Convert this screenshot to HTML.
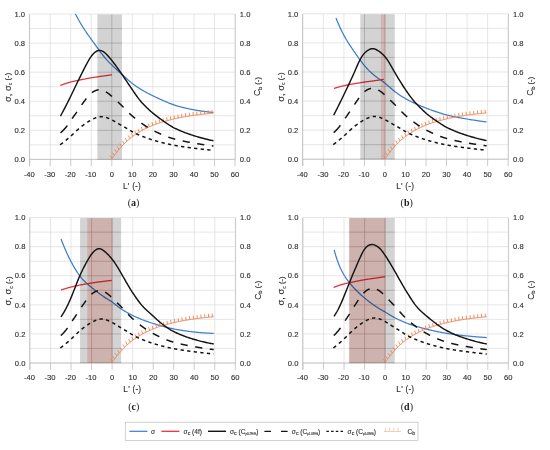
<!DOCTYPE html>
<html lang="en"><head><meta charset="utf-8"><title>Figure</title>
<style>
html,body{margin:0;padding:0;background:#fff;}
body{width:550px;height:450px;overflow:hidden;}
svg{display:block;}
text{font-family:"Liberation Sans",sans-serif;fill:#2e2e2e;stroke:#2e2e2e;stroke-width:0.12px;}
.tk{font-size:7.6px;}
.at{font-size:8.6px;}
.lg{font-size:6.6px;fill:#333;}
.sub{font-size:5.2px;}
.gk{font-size:9.3px;}
.xl{font-size:8.3px;letter-spacing:0.2px;}
.pr{font-size:7.8px;}
.sub2{font-size:2.9px;}
.cap{font-family:"Liberation Serif",serif;font-size:10px;fill:#222;stroke:none;}
.cap .b{font-weight:bold;}
.grid{stroke:#d9d9d9;stroke-width:0.65;fill:none;}
.band{mix-blend-mode:multiply;}
.bg{fill:none;stroke-width:0.8;}
.bg.gray{stroke:rgba(0,0,0,0.10);}
.bg.pink,.bg.brown{stroke:rgba(150,50,30,0.16);}
.axis{stroke:#bababa;stroke-width:0.75;fill:none;}
.axisr{stroke:#c6c6c6;stroke-width:0.85;fill:none;}
.c{fill:none;stroke-linejoin:round;}
.blue{stroke:#3f7fcf;stroke-width:1.25;}
.red{stroke:#e8333c;stroke-width:1.3;}
.black{stroke:#141414;stroke-width:1.45;}
.dashed{stroke:#141414;stroke-width:1.5;}
.dotted{stroke:#141414;stroke-width:1.5;}
.cb{stroke:#ee8254;stroke-width:1.0;}
.cbt{stroke:#ee8254;stroke-width:0.9;}
.cbl{stroke:#f3b184;stroke-width:0.6;}
</style></head><body>
<svg width="550" height="450" viewBox="0 0 550 450">
<rect width="550" height="450" fill="#fff"/>
<g class="panel">
<path class="grid" d="M29.70 14.00 V159.40M50.23 14.00 V159.40M70.76 14.00 V159.40M91.29 14.00 V159.40M111.82 14.00 V159.40M132.35 14.00 V159.40M152.88 14.00 V159.40M173.41 14.00 V159.40M193.94 14.00 V159.40M214.47 14.00 V159.40M235.00 14.00 V159.40M29.70 14.00 H235.00M29.70 28.54 H235.00M29.70 43.08 H235.00M29.70 57.62 H235.00M29.70 72.16 H235.00M29.70 86.70 H235.00M29.70 101.24 H235.00M29.70 115.78 H235.00M29.70 130.32 H235.00M29.70 144.86 H235.00M29.70 159.40 H235.00"/>
<path class="axis" d="M29.40 14.00 V166.20 M29.70 159.40 H235.00 M29.70 159.40 V166.20M50.23 159.40 V166.20M70.76 159.40 V166.20M91.29 159.40 V166.20M111.82 159.40 V166.20M132.35 159.40 V166.20M152.88 159.40 V166.20M173.41 159.40 V166.20M193.94 159.40 V166.20M214.47 159.40 V166.20M235.00 159.40 V166.20"/>
<path class="axisr" d="M235.30 14.00 V159.40"/>
<path class="c blue" d="M75.36 14.00L76.05 15.25L76.75 16.54L77.44 17.82L78.13 19.07L78.83 20.30L79.52 21.51L80.22 22.70L80.91 23.87L81.60 25.02L82.30 26.15L82.99 27.26L83.69 28.35L84.38 29.42L85.07 30.48L85.77 31.51L86.46 32.54L87.15 33.54L87.85 34.54L88.54 35.52L89.24 36.50L89.93 37.46L90.62 38.43L91.32 39.39L92.01 40.34L92.71 41.30L93.40 42.25L94.09 43.21L94.79 44.17L95.48 45.13L96.18 46.09L96.87 47.06L97.56 48.02L98.26 48.98L98.95 49.94L99.64 50.89L100.34 51.84L101.03 52.77L101.73 53.70L102.42 54.61L103.11 55.50L103.81 56.38L104.50 57.24L105.20 58.08L105.89 58.89L106.58 59.68L107.28 60.45L107.97 61.19L108.67 61.91L109.36 62.60L110.05 63.27L110.75 63.91L111.44 64.53L112.14 65.31L112.83 66.01L113.52 66.70L114.22 67.38L114.91 68.03L115.60 68.67L116.30 69.31L116.99 69.94L117.69 70.56L118.38 71.18L119.07 71.80L119.77 72.42L120.46 73.05L121.16 73.67L121.85 74.29L122.54 74.92L123.24 75.55L123.93 76.18L124.63 76.81L125.32 77.44L126.01 78.07L126.71 78.69L127.40 79.31L128.09 79.93L128.79 80.53L129.48 81.13L130.18 81.72L130.87 82.29L131.56 82.86L132.26 83.41L132.95 83.95L133.65 84.47L134.34 84.99L135.03 85.49L135.73 85.98L136.42 86.46L137.12 86.93L137.81 87.39L138.50 87.84L139.20 88.29L139.89 88.72L140.58 89.15L141.28 89.57L141.97 89.98L142.67 90.39L143.36 90.79L144.05 91.18L144.75 91.57L145.44 91.95L146.14 92.33L146.83 92.70L147.52 93.07L148.22 93.44L148.91 93.79L149.61 94.15L150.30 94.50L150.99 94.85L151.69 95.20L152.38 95.54L153.07 95.88L153.77 96.22L154.46 96.55L155.16 96.88L155.85 97.21L156.54 97.54L157.24 97.87L157.93 98.19L158.63 98.51L159.32 98.83L160.01 99.15L160.71 99.47L161.40 99.78L162.10 100.09L162.79 100.40L163.48 100.71L164.18 101.01L164.87 101.31L165.56 101.61L166.26 101.91L166.95 102.20L167.65 102.49L168.34 102.77L169.03 103.06L169.73 103.34L170.42 103.61L171.12 103.88L171.81 104.14L172.50 104.40L173.20 104.65L173.89 104.89L174.59 105.12L175.28 105.35L175.97 105.57L176.67 105.78L177.36 105.99L178.05 106.19L178.75 106.39L179.44 106.58L180.14 106.77L180.83 106.96L181.52 107.14L182.22 107.31L182.91 107.48L183.61 107.65L184.30 107.82L184.99 107.98L185.69 108.14L186.38 108.29L187.08 108.44L187.77 108.59L188.46 108.74L189.16 108.88L189.85 109.03L190.55 109.17L191.24 109.30L191.93 109.44L192.63 109.57L193.32 109.70L194.01 109.82L194.71 109.95L195.40 110.07L196.10 110.19L196.79 110.31L197.48 110.43L198.18 110.54L198.87 110.65L199.57 110.76L200.26 110.87L200.95 110.97L201.65 111.07L202.34 111.17L203.04 111.27L203.73 111.36L204.42 111.46L205.12 111.55L205.81 111.64L206.50 111.73L207.20 111.81L207.89 111.89L208.59 111.97L209.28 112.05L209.97 112.13L210.67 112.21L211.36 112.28L212.06 112.35L212.75 112.42L213.44 112.49"/>
<path class="c red" d="M60.29 85.47L60.61 85.34L60.94 85.21L61.26 85.09L61.59 84.97L61.91 84.84L62.24 84.72L62.56 84.60L62.89 84.48L63.21 84.37L63.54 84.25L63.86 84.13L64.19 84.02L64.51 83.91L64.84 83.80L65.16 83.69L65.49 83.58L65.81 83.47L66.13 83.36L66.46 83.26L66.78 83.16L67.11 83.05L67.43 82.95L67.76 82.85L68.08 82.76L68.41 82.66L68.73 82.57L69.06 82.47L69.38 82.38L69.71 82.29L70.03 82.21L70.36 82.12L70.68 82.03L71.01 81.95L71.33 81.87L71.66 81.79L71.98 81.71L72.30 81.63L72.63 81.55L72.95 81.48L73.28 81.40L73.60 81.33L73.93 81.26L74.25 81.18L74.58 81.11L74.90 81.04L75.23 80.97L75.55 80.90L75.88 80.84L76.20 80.77L76.53 80.70L76.85 80.63L77.18 80.56L77.50 80.50L77.83 80.43L78.15 80.36L78.47 80.29L78.80 80.22L79.12 80.16L79.45 80.09L79.77 80.02L80.10 79.95L80.42 79.89L80.75 79.82L81.07 79.75L81.40 79.69L81.72 79.62L82.05 79.55L82.37 79.48L82.70 79.42L83.02 79.35L83.35 79.28L83.67 79.22L84.00 79.15L84.32 79.09L84.64 79.02L84.97 78.96L85.29 78.89L85.62 78.83L85.94 78.77L86.27 78.70L86.59 78.64L86.92 78.58L87.24 78.51L87.57 78.45L87.89 78.39L88.22 78.33L88.54 78.27L88.87 78.21L89.19 78.15L89.52 78.10L89.84 78.04L90.17 77.98L90.49 77.92L90.81 77.87L91.14 77.81L91.46 77.76L91.79 77.71L92.11 77.65L92.44 77.60L92.76 77.55L93.09 77.50L93.41 77.44L93.74 77.39L94.06 77.34L94.39 77.29L94.71 77.25L95.04 77.20L95.36 77.15L95.69 77.10L96.01 77.05L96.34 77.01L96.66 76.96L96.98 76.91L97.31 76.86L97.63 76.82L97.96 76.77L98.28 76.73L98.61 76.68L98.93 76.63L99.26 76.59L99.58 76.54L99.91 76.49L100.23 76.45L100.56 76.40L100.88 76.35L101.21 76.31L101.53 76.26L101.86 76.22L102.18 76.17L102.51 76.12L102.83 76.08L103.15 76.03L103.48 75.98L103.80 75.94L104.13 75.89L104.45 75.84L104.78 75.80L105.10 75.75L105.43 75.70L105.75 75.66L106.08 75.61L106.40 75.56L106.73 75.52L107.05 75.47L107.38 75.42L107.70 75.38L108.03 75.33L108.35 75.28L108.68 75.24L109.00 75.19L109.32 75.15L109.65 75.10L109.97 75.05L110.30 75.01L110.62 74.96L110.95 74.92L111.27 74.87L111.60 74.82L111.92 74.78"/>
<rect class="band" x="97.35" y="14.50" width="24.64" height="144.90" fill="rgb(211,211,211)"/>
<path class="bg gray" d="M111.82 14.50 V159.40M97.35 28.54 H121.98M97.35 43.08 H121.98M97.35 57.62 H121.98M97.35 72.16 H121.98M97.35 86.70 H121.98M97.35 101.24 H121.98M97.35 115.78 H121.98M97.35 130.32 H121.98M97.35 144.86 H121.98M97.35 159.40 H121.98"/>
<path class="c cb" d="M111.82 158.62L112.46 157.78L113.10 156.95L113.74 156.13L114.38 155.31L115.02 154.49L115.65 153.68L116.29 152.87L116.93 152.07L117.57 151.27L118.21 150.49L118.85 149.71L119.49 148.95L120.13 148.20L120.77 147.46L121.41 146.74L122.05 146.04L122.69 145.35L123.32 144.68L123.96 144.02L124.60 143.38L125.24 142.75L125.88 142.14L126.52 141.54L127.16 140.95L127.80 140.38L128.44 139.81L129.08 139.26L129.72 138.73L130.36 138.21L130.99 137.70L131.63 137.20L132.27 136.72L132.91 136.25L133.55 135.79L134.19 135.34L134.83 134.90L135.47 134.48L136.11 134.06L136.75 133.65L137.39 133.24L138.02 132.85L138.66 132.45L139.30 132.07L139.94 131.69L140.58 131.31L141.22 130.94L141.86 130.58L142.50 130.22L143.14 129.87L143.78 129.53L144.42 129.19L145.06 128.86L145.69 128.54L146.33 128.22L146.97 127.91L147.61 127.61L148.25 127.31L148.89 127.02L149.53 126.73L150.17 126.45L150.81 126.17L151.45 125.90L152.09 125.64L152.73 125.38L153.36 125.12L154.00 124.87L154.64 124.63L155.28 124.39L155.92 124.16L156.56 123.93L157.20 123.70L157.84 123.48L158.48 123.27L159.12 123.06L159.76 122.85L160.39 122.65L161.03 122.45L161.67 122.25L162.31 122.06L162.95 121.88L163.59 121.70L164.23 121.52L164.87 121.34L165.51 121.17L166.15 120.99L166.79 120.82L167.43 120.65L168.06 120.48L168.70 120.31L169.34 120.13L169.98 119.96L170.62 119.79L171.26 119.62L171.90 119.46L172.54 119.30L173.18 119.14L173.82 118.99L174.46 118.84L175.10 118.70L175.73 118.56L176.37 118.42L177.01 118.28L177.65 118.15L178.29 118.02L178.93 117.89L179.57 117.76L180.21 117.64L180.85 117.51L181.49 117.39L182.13 117.27L182.76 117.15L183.40 117.03L184.04 116.92L184.68 116.81L185.32 116.69L185.96 116.58L186.60 116.48L187.24 116.37L187.88 116.26L188.52 116.16L189.16 116.06L189.80 115.96L190.43 115.86L191.07 115.77L191.71 115.67L192.35 115.58L192.99 115.49L193.63 115.39L194.27 115.31L194.91 115.22L195.55 115.13L196.19 115.05L196.83 114.96L197.46 114.88L198.10 114.79L198.74 114.71L199.38 114.63L200.02 114.55L200.66 114.47L201.30 114.40L201.94 114.32L202.58 114.24L203.22 114.17L203.86 114.10L204.50 114.03L205.13 113.96L205.77 113.89L206.41 113.82L207.05 113.75L207.69 113.69L208.33 113.62L208.97 113.56L209.61 113.50L210.25 113.44L210.89 113.39L211.53 113.33L212.17 113.27L212.80 113.22L213.44 113.17"/>
<path class="c cbt" d="M112.00 158.38 L110.02 155.62M114.33 155.37 L112.36 152.59M116.68 152.39 L114.75 149.59M119.08 149.44 L117.20 146.60M121.56 146.57 L119.79 143.66M124.17 143.81 L122.52 140.84M126.91 141.17 L125.38 138.14M129.78 138.68 L128.37 135.58M132.78 136.34 L131.51 133.19M135.91 134.19 L134.76 130.99M139.13 132.17 L138.05 128.95M142.41 130.27 L141.42 127.02M145.78 128.50 L144.88 125.22M149.21 126.87 L148.40 123.57M152.71 125.38 L151.97 122.06M156.26 124.03 L155.60 120.70M159.86 122.82 L159.27 119.47M163.50 121.72 L162.97 118.36M167.16 120.72 L166.67 117.36M170.83 119.74 L170.34 116.37M174.52 118.83 L174.10 115.45M178.24 118.03 L177.86 114.65M181.97 117.30 L181.62 113.92M185.71 116.63 L185.39 113.24M189.46 116.01 L189.17 112.63M193.22 115.45 L192.95 112.06M196.98 114.94 L196.74 111.55M200.75 114.46 L200.52 111.07M204.52 114.02 L204.32 110.63M208.30 113.63 L208.12 110.23M212.09 113.28 L211.93 109.88"/>
<path class="c dotted" d="M60.08 144.84L60.19 144.76L60.29 144.69L60.39 144.61L60.49 144.53L60.60 144.46L60.70 144.38L60.80 144.30L60.90 144.23L61.01 144.15L61.11 144.07L61.21 143.99L61.31 143.92L61.41 143.84L61.52 143.76L61.62 143.68L61.72 143.61L61.82 143.53L61.93 143.45L62.03 143.37L62.13 143.29L62.23 143.21L62.34 143.14L62.44 143.06L62.54 142.98L62.64 142.90L62.74 142.82L62.85 142.74L62.95 142.66M65.71 140.46L65.81 140.38L65.92 140.30L66.02 140.21L66.12 140.13L66.22 140.05L66.33 139.96L66.43 139.88L66.53 139.79L66.63 139.71L66.73 139.62L66.84 139.54L66.94 139.45L67.04 139.37L67.14 139.28L67.25 139.20L67.35 139.11L67.45 139.03L67.55 138.94L67.66 138.86L67.76 138.77L67.86 138.68L67.96 138.60L68.06 138.51L68.17 138.42L68.27 138.34L68.37 138.25M71.03 135.92L71.13 135.82L71.24 135.73L71.34 135.64L71.44 135.55L71.54 135.45L71.65 135.36L71.75 135.27L71.85 135.17L71.95 135.08L72.05 134.98L72.16 134.89L72.26 134.79L72.36 134.70L72.46 134.60L72.57 134.51L72.67 134.41L72.77 134.32L72.87 134.22L72.98 134.12L73.08 134.03L73.18 133.93L73.28 133.84L73.38 133.74L73.49 133.64L73.59 133.55M76.25 131.02L76.35 130.93L76.45 130.83L76.56 130.74L76.66 130.64L76.76 130.55L76.86 130.46L76.97 130.36L77.07 130.27L77.17 130.17L77.27 130.08L77.37 129.99L77.48 129.90L77.58 129.80L77.68 129.71L77.78 129.62L77.89 129.53L77.99 129.44L78.09 129.35L78.19 129.26L78.30 129.17L78.40 129.08L78.50 128.99L78.60 128.90L78.70 128.81L78.81 128.72L78.91 128.63M81.57 126.44L81.67 126.36L81.77 126.28L81.88 126.20L81.98 126.12L82.08 126.04L82.18 125.96L82.29 125.88L82.39 125.80L82.49 125.72L82.59 125.64L82.69 125.57L82.80 125.49L82.90 125.41L83.00 125.33L83.10 125.26L83.21 125.18L83.31 125.10L83.41 125.03L83.51 124.95L83.62 124.87L83.72 124.80L83.82 124.72L83.92 124.65L84.02 124.57L84.13 124.50L84.23 124.42L84.33 124.35L84.43 124.28M87.30 122.31L87.40 122.24L87.50 122.18L87.61 122.11L87.71 122.04L87.81 121.98L87.91 121.91L88.01 121.85L88.12 121.78L88.22 121.72L88.32 121.66L88.42 121.59L88.53 121.53L88.63 121.46L88.73 121.40L88.83 121.34L88.94 121.28L89.04 121.21L89.14 121.15L89.24 121.09L89.34 121.03L89.45 120.97L89.55 120.91L89.65 120.85L89.75 120.78L89.86 120.72L89.96 120.66L90.06 120.61L90.16 120.55M93.23 118.91L93.33 118.86L93.44 118.81L93.54 118.76L93.64 118.71L93.74 118.66L93.85 118.62L93.95 118.57L94.05 118.52L94.15 118.48L94.26 118.43L94.36 118.39L94.46 118.34L94.56 118.30L94.66 118.25L94.77 118.21L94.87 118.17L94.97 118.12L95.07 118.08L95.18 118.04L95.28 118.00L95.38 117.96L95.48 117.92L95.59 117.88L95.69 117.84L95.79 117.80L95.89 117.76L95.99 117.72L96.10 117.69L96.20 117.65L96.30 117.61M99.58 116.78L99.68 116.77L99.78 116.76L99.88 116.74L99.98 116.73L100.09 116.72L100.19 116.71L100.29 116.70L100.39 116.69L100.50 116.68L100.60 116.68L100.70 116.67L100.80 116.67L100.91 116.66L101.01 116.66L101.11 116.65L101.21 116.65L101.31 116.65L101.42 116.65L101.52 116.65L101.62 116.65L101.72 116.66L101.83 116.66L101.93 116.66L102.03 116.67L102.13 116.67L102.24 116.68L102.34 116.69L102.44 116.69L102.54 116.70L102.64 116.71L102.75 116.72L102.85 116.73M106.12 117.46L106.23 117.49L106.33 117.53L106.43 117.56L106.53 117.60L106.63 117.63L106.74 117.67L106.84 117.70L106.94 117.74L107.04 117.78L107.15 117.81L107.25 117.85L107.35 117.89L107.45 117.93L107.56 117.97L107.66 118.01L107.76 118.05L107.86 118.09L107.96 118.13L108.07 118.17L108.17 118.21L108.27 118.25L108.37 118.29L108.48 118.33L108.58 118.38L108.68 118.42L108.78 118.46L108.89 118.51L108.99 118.55L109.09 118.59L109.19 118.64M112.26 120.10L112.36 120.15L112.47 120.21L112.57 120.26L112.67 120.31L112.77 120.37L112.88 120.42L112.98 120.48L113.08 120.53L113.18 120.59L113.28 120.65L113.39 120.70L113.49 120.76L113.59 120.82L113.69 120.87L113.80 120.93L113.90 120.99L114.00 121.05L114.10 121.10L114.21 121.16L114.31 121.22L114.41 121.28L114.51 121.34L114.61 121.40L114.72 121.46L114.82 121.52L114.92 121.58L115.02 121.64L115.13 121.70L115.23 121.76M118.20 123.52L118.30 123.57L118.40 123.63L118.50 123.69L118.60 123.75L118.71 123.81L118.81 123.87L118.91 123.93L119.01 123.99L119.12 124.05L119.22 124.11L119.32 124.17L119.42 124.22L119.53 124.28L119.63 124.34L119.73 124.40L119.83 124.46L119.93 124.51L120.04 124.57L120.14 124.63L120.24 124.69L120.34 124.74L120.45 124.80L120.55 124.86L120.65 124.92L120.75 124.97L120.86 125.03L120.96 125.09L121.06 125.15L121.16 125.20L121.26 125.26M124.23 126.92L124.33 126.98L124.44 127.04L124.54 127.10L124.64 127.16L124.74 127.22L124.85 127.27L124.95 127.33L125.05 127.39L125.15 127.45L125.25 127.51L125.36 127.57L125.46 127.63L125.56 127.69L125.66 127.75L125.77 127.81L125.87 127.87L125.97 127.93L126.07 127.99L126.18 128.05L126.28 128.11L126.38 128.17L126.48 128.23L126.58 128.29L126.69 128.35L126.79 128.41L126.89 128.47L126.99 128.53L127.10 128.59L127.20 128.65M130.17 130.45L130.27 130.52L130.37 130.58L130.47 130.64L130.57 130.70L130.68 130.76L130.78 130.83L130.88 130.89L130.98 130.95L131.09 131.01L131.19 131.07L131.29 131.14L131.39 131.20L131.50 131.26L131.60 131.32L131.70 131.38L131.80 131.44L131.90 131.50L132.01 131.56L132.11 131.62L132.21 131.68L132.31 131.74L132.42 131.80L132.52 131.86L132.62 131.92L132.72 131.98L132.83 132.04L132.93 132.10L133.03 132.15M136.10 133.74L136.20 133.78L136.30 133.83L136.41 133.88L136.51 133.93L136.61 133.97L136.71 134.02L136.82 134.06L136.92 134.11L137.02 134.16L137.12 134.20L137.22 134.25L137.33 134.29L137.43 134.34L137.53 134.38L137.63 134.43L137.74 134.47L137.84 134.52L137.94 134.56L138.04 134.60L138.15 134.65L138.25 134.69L138.35 134.73L138.45 134.78L138.55 134.82L138.66 134.86L138.76 134.91L138.86 134.95L138.96 134.99L139.07 135.03L139.17 135.08M142.34 136.35L142.44 136.39L142.54 136.43L142.65 136.47L142.75 136.51L142.85 136.55L142.95 136.59L143.06 136.63L143.16 136.67L143.26 136.70L143.36 136.74L143.47 136.78L143.57 136.82L143.67 136.86L143.77 136.90L143.87 136.94L143.98 136.98L144.08 137.02L144.18 137.06L144.28 137.09L144.39 137.13L144.49 137.17L144.59 137.21L144.69 137.25L144.80 137.29L144.90 137.33L145.00 137.36L145.10 137.40L145.20 137.44L145.31 137.48L145.41 137.52L145.51 137.55M148.68 138.69L148.79 138.72L148.89 138.76L148.99 138.79L149.09 138.83L149.19 138.86L149.30 138.89L149.40 138.93L149.50 138.96L149.60 139.00L149.71 139.03L149.81 139.07L149.91 139.10L150.01 139.13L150.12 139.17L150.22 139.20L150.32 139.23L150.42 139.27L150.52 139.30L150.63 139.33L150.73 139.37L150.83 139.40L150.93 139.43L151.04 139.47L151.14 139.50L151.24 139.53L151.34 139.56L151.45 139.60L151.55 139.63L151.65 139.66L151.75 139.69L151.85 139.73M155.03 140.68L155.13 140.71L155.23 140.74L155.33 140.77L155.44 140.80L155.54 140.83L155.64 140.86L155.74 140.89L155.84 140.92L155.95 140.95L156.05 140.97L156.15 141.00L156.25 141.03L156.36 141.06L156.46 141.09L156.56 141.12L156.66 141.15L156.77 141.18L156.87 141.21L156.97 141.24L157.07 141.26L157.17 141.29L157.28 141.32L157.38 141.35L157.48 141.38L157.58 141.41L157.69 141.44L157.79 141.46L157.89 141.49L157.99 141.52L158.10 141.55L158.20 141.58M161.47 142.45L161.57 142.48L161.68 142.51L161.78 142.53L161.88 142.56L161.98 142.59L162.09 142.61L162.19 142.64L162.29 142.66L162.39 142.69L162.49 142.72L162.60 142.74L162.70 142.77L162.80 142.79L162.90 142.82L163.01 142.84L163.11 142.87L163.21 142.90L163.31 142.92L163.42 142.95L163.52 142.97L163.62 143.00L163.72 143.02L163.82 143.05L163.93 143.07L164.03 143.10L164.13 143.12L164.23 143.15L164.34 143.17L164.44 143.20L164.54 143.22L164.64 143.25L164.75 143.27M167.92 144.01L168.02 144.03L168.12 144.06L168.22 144.08L168.33 144.10L168.43 144.12L168.53 144.15L168.63 144.17L168.74 144.19L168.84 144.21L168.94 144.23L169.04 144.26L169.14 144.28L169.25 144.30L169.35 144.32L169.45 144.34L169.55 144.37L169.66 144.39L169.76 144.41L169.86 144.43L169.96 144.45L170.07 144.47L170.17 144.49L170.27 144.52L170.37 144.54L170.47 144.56L170.58 144.58L170.68 144.60L170.78 144.62L170.88 144.64L170.99 144.66L171.09 144.68L171.19 144.70M174.46 145.33L174.57 145.35L174.67 145.37L174.77 145.39L174.87 145.40L174.98 145.42L175.08 145.44L175.18 145.46L175.28 145.48L175.39 145.50L175.49 145.51L175.59 145.53L175.69 145.55L175.79 145.57L175.90 145.59L176.00 145.60L176.10 145.62L176.20 145.64L176.31 145.66L176.41 145.67L176.51 145.69L176.61 145.71L176.72 145.73L176.82 145.74L176.92 145.76L177.02 145.78L177.12 145.80L177.23 145.81L177.33 145.83L177.43 145.85L177.53 145.87L177.64 145.88L177.74 145.90M181.01 146.42L181.11 146.44L181.22 146.45L181.32 146.47L181.42 146.48L181.52 146.50L181.63 146.52L181.73 146.53L181.83 146.55L181.93 146.56L182.04 146.58L182.14 146.59L182.24 146.61L182.34 146.62L182.44 146.64L182.55 146.65L182.65 146.67L182.75 146.68L182.85 146.70L182.96 146.71L183.06 146.73L183.16 146.74L183.26 146.76L183.37 146.77L183.47 146.79L183.57 146.80L183.67 146.82L183.77 146.83L183.88 146.85L183.98 146.86L184.08 146.88L184.18 146.89L184.29 146.91M187.56 147.37L187.66 147.38L187.76 147.39L187.87 147.41L187.97 147.42L188.07 147.43L188.17 147.45L188.28 147.46L188.38 147.48L188.48 147.49L188.58 147.50L188.69 147.52L188.79 147.53L188.89 147.54L188.99 147.56L189.09 147.57L189.20 147.59L189.30 147.60L189.40 147.61L189.50 147.63L189.61 147.64L189.71 147.65L189.81 147.67L189.91 147.68L190.02 147.69L190.12 147.71L190.22 147.72L190.32 147.73L190.42 147.75L190.53 147.76L190.63 147.77L190.73 147.79L190.83 147.80M194.11 148.22L194.21 148.24L194.31 148.25L194.41 148.26L194.52 148.27L194.62 148.29L194.72 148.30L194.82 148.31L194.93 148.33L195.03 148.34L195.13 148.35L195.23 148.36L195.34 148.38L195.44 148.39L195.54 148.40L195.64 148.42L195.74 148.43L195.85 148.44L195.95 148.45L196.05 148.47L196.15 148.48L196.26 148.49L196.36 148.50L196.46 148.52L196.56 148.53L196.67 148.54L196.77 148.56L196.87 148.57L196.97 148.58L197.07 148.59L197.18 148.61L197.28 148.62L197.38 148.63M200.66 149.02L200.76 149.04L200.86 149.05L200.96 149.06L201.06 149.07L201.17 149.08L201.27 149.10L201.37 149.11L201.47 149.12L201.58 149.13L201.68 149.14L201.78 149.15L201.88 149.17L201.99 149.18L202.09 149.19L202.19 149.20L202.29 149.21L202.39 149.23L202.50 149.24L202.60 149.25L202.70 149.26L202.80 149.27L202.91 149.28L203.01 149.30L203.11 149.31L203.21 149.32L203.32 149.33L203.42 149.34L203.52 149.35L203.62 149.36L203.72 149.38L203.83 149.39L203.93 149.40M207.20 149.76L207.31 149.77L207.41 149.78L207.51 149.79L207.61 149.80L207.71 149.81L207.82 149.82L207.92 149.83L208.02 149.84L208.12 149.85L208.23 149.86L208.33 149.87L208.43 149.88L208.53 149.90L208.64 149.91L208.74 149.92L208.84 149.93L208.94 149.94L209.04 149.95L209.15 149.96L209.25 149.97L209.35 149.98L209.45 149.99L209.56 150.00L209.66 150.01L209.76 150.02L209.86 150.03L209.97 150.04L210.07 150.05L210.17 150.06L210.27 150.07L210.37 150.08L210.48 150.09"/>
<path class="c dashed" d="M60.50 132.88L60.60 132.79L60.70 132.70L60.80 132.61L60.90 132.52L61.01 132.43L61.11 132.34L61.21 132.25L61.31 132.15L61.41 132.06L61.52 131.97L61.62 131.87L61.72 131.78L61.82 131.69L61.92 131.59L62.03 131.49L62.13 131.40L62.23 131.30L62.33 131.20L62.43 131.10L62.54 131.00L62.64 130.90L62.74 130.80L62.84 130.70L62.94 130.60L63.05 130.49L63.15 130.39L63.25 130.28L63.35 130.18L63.45 130.07L63.56 129.97L63.66 129.86L63.76 129.75L63.86 129.64L63.96 129.53L64.07 129.42L64.17 129.31L64.27 129.20L64.37 129.08L64.47 128.97L64.58 128.86L64.68 128.74L64.78 128.62L64.88 128.51L64.98 128.39L65.09 128.27L65.19 128.15L65.29 128.03L65.39 127.91L65.49 127.79L65.60 127.67L65.70 127.54L65.80 127.42L65.90 127.29L66.00 127.17L66.11 127.04L66.21 126.91L66.31 126.79L66.41 126.66L66.51 126.53L66.62 126.40L66.72 126.26L66.82 126.13L66.92 126.00L67.03 125.86L67.13 125.73L67.23 125.59L67.33 125.46M72.13 118.56L72.23 118.41L72.33 118.26L72.43 118.12L72.53 117.97L72.64 117.83L72.74 117.69L72.84 117.54L72.94 117.40L73.05 117.25L73.15 117.11L73.25 116.97L73.35 116.83L73.45 116.68L73.56 116.54L73.66 116.40L73.76 116.26L73.86 116.11L73.96 115.97L74.07 115.83L74.17 115.69L74.27 115.55L74.37 115.40L74.47 115.26L74.58 115.12L74.68 114.98L74.78 114.84L74.88 114.69L74.98 114.55L75.09 114.41L75.19 114.27L75.29 114.12L75.39 113.98L75.49 113.83L75.60 113.69L75.70 113.55L75.80 113.40L75.90 113.26L76.00 113.11L76.11 112.97L76.21 112.82L76.31 112.67L76.41 112.53L76.51 112.38L76.62 112.23L76.72 112.08L76.82 111.93M81.62 104.90L81.72 104.75L81.82 104.61L81.92 104.47L82.02 104.32L82.13 104.18L82.23 104.04L82.33 103.90L82.43 103.75L82.53 103.61L82.64 103.47L82.74 103.33L82.84 103.19L82.94 103.05L83.04 102.91L83.15 102.77L83.25 102.63L83.35 102.49L83.45 102.35L83.55 102.21L83.66 102.07L83.76 101.93L83.86 101.79L83.96 101.65L84.06 101.51L84.17 101.37L84.27 101.23L84.37 101.10L84.47 100.96L84.57 100.82L84.68 100.68L84.78 100.55L84.88 100.41L84.98 100.27L85.09 100.13L85.19 100.00L85.29 99.86L85.39 99.73L85.49 99.59L85.60 99.45L85.70 99.32L85.80 99.18L85.90 99.05L86.00 98.92L86.11 98.78L86.21 98.65L86.31 98.52M91.92 92.64L92.02 92.57L92.13 92.49L92.23 92.42L92.33 92.35L92.43 92.27L92.53 92.20L92.64 92.13L92.74 92.07L92.84 92.00L92.94 91.93L93.04 91.87L93.15 91.80L93.25 91.74L93.35 91.68L93.45 91.61L93.55 91.55L93.66 91.50L93.76 91.44L93.86 91.38L93.96 91.32L94.06 91.27L94.17 91.21L94.27 91.16L94.37 91.11L94.47 91.06L94.57 91.01L94.68 90.96L94.78 90.91L94.88 90.86L94.98 90.82L95.08 90.77L95.19 90.73L95.29 90.68L95.39 90.64L95.49 90.60L95.59 90.56L95.70 90.52L95.80 90.48L95.90 90.45L96.00 90.41L96.10 90.37L96.21 90.34L96.31 90.31L96.41 90.27L96.51 90.24L96.61 90.21L96.72 90.18L96.82 90.16L96.92 90.13L97.02 90.10L97.13 90.08L97.23 90.05L97.33 90.03L97.43 90.01L97.53 89.99L97.64 89.97L97.74 89.95L97.84 89.93L97.94 89.91L98.04 89.90L98.15 89.88L98.25 89.87L98.35 89.86L98.45 89.85L98.55 89.84L98.66 89.83M105.90 91.85L106.00 91.91L106.10 91.97L106.21 92.03L106.31 92.10L106.41 92.16L106.51 92.22L106.61 92.29L106.72 92.35L106.82 92.42L106.92 92.49L107.02 92.55L107.12 92.62L107.23 92.69L107.33 92.76L107.43 92.83L107.53 92.90L107.63 92.97L107.74 93.04L107.84 93.12L107.94 93.19L108.04 93.26L108.14 93.34L108.25 93.41L108.35 93.49L108.45 93.57L108.55 93.64L108.65 93.72L108.76 93.80L108.86 93.88L108.96 93.96L109.06 94.04L109.17 94.12L109.27 94.20L109.37 94.28L109.47 94.36L109.57 94.45L109.68 94.53L109.78 94.62L109.88 94.70L109.98 94.79L110.08 94.87L110.19 94.96L110.29 95.04L110.39 95.13L110.49 95.22L110.59 95.31L110.70 95.40L110.80 95.49L110.90 95.58L111.00 95.67L111.10 95.76L111.21 95.85L111.31 95.94L111.41 96.03L111.51 96.12L111.61 96.22L111.72 96.31L111.82 96.40L111.92 96.50M117.94 102.05L118.04 102.14L118.14 102.23L118.25 102.32L118.35 102.41L118.45 102.50L118.55 102.60L118.65 102.69L118.76 102.78L118.86 102.87L118.96 102.97L119.06 103.06L119.16 103.15L119.27 103.24L119.37 103.34L119.47 103.43L119.57 103.52L119.67 103.62L119.78 103.71L119.88 103.81L119.98 103.90L120.08 104.00L120.18 104.09L120.29 104.19L120.39 104.28L120.49 104.38L120.59 104.47L120.69 104.57L120.80 104.67L120.90 104.76L121.00 104.86L121.10 104.96L121.21 105.05L121.31 105.15L121.41 105.25L121.51 105.35L121.61 105.45L121.72 105.55L121.82 105.65L121.92 105.75L122.02 105.85L122.12 105.95L122.23 106.05L122.33 106.15L122.43 106.25L122.53 106.35L122.63 106.45L122.74 106.55L122.84 106.65L122.94 106.76L123.04 106.86L123.14 106.96L123.25 107.06L123.35 107.17L123.45 107.27L123.55 107.37M129.27 113.21L129.37 113.31L129.47 113.41L129.57 113.51L129.67 113.61L129.78 113.70L129.88 113.80L129.98 113.90L130.08 114.00L130.18 114.09L130.29 114.19L130.39 114.28L130.49 114.38L130.59 114.47L130.69 114.57L130.80 114.66L130.90 114.76L131.00 114.85L131.10 114.95L131.20 115.04L131.31 115.13L131.41 115.22L131.51 115.31L131.61 115.41L131.71 115.50L131.82 115.59L131.92 115.68L132.02 115.77L132.12 115.86L132.22 115.95L132.33 116.04L132.43 116.13L132.53 116.21L132.63 116.30L132.73 116.39L132.84 116.48L132.94 116.56L133.04 116.65L133.14 116.74L133.25 116.82L133.35 116.91L133.45 117.00L133.55 117.08L133.65 117.17L133.76 117.25L133.86 117.34L133.96 117.42L134.06 117.51L134.16 117.59L134.27 117.67L134.37 117.76L134.47 117.84L134.57 117.92L134.67 118.01L134.78 118.09L134.88 118.17L134.98 118.26L135.08 118.34M141.41 123.15L141.51 123.22L141.61 123.30L141.71 123.37L141.82 123.44L141.92 123.51L142.02 123.58L142.12 123.66L142.22 123.73L142.33 123.80L142.43 123.87L142.53 123.94L142.63 124.01L142.73 124.09L142.84 124.16L142.94 124.23L143.04 124.30L143.14 124.37L143.24 124.44L143.35 124.51L143.45 124.58L143.55 124.65L143.65 124.72L143.75 124.79L143.86 124.86L143.96 124.93L144.06 125.00L144.16 125.06L144.26 125.13L144.37 125.20L144.47 125.27L144.57 125.34L144.67 125.41L144.77 125.47L144.88 125.54L144.98 125.61L145.08 125.68L145.18 125.74L145.28 125.81L145.39 125.88L145.49 125.94L145.59 126.01L145.69 126.08L145.80 126.14L145.90 126.21L146.00 126.27L146.10 126.34L146.20 126.40L146.31 126.47L146.41 126.53L146.51 126.60L146.61 126.66L146.71 126.73L146.82 126.79L146.92 126.86L147.02 126.92L147.12 126.98L147.22 127.05L147.33 127.11L147.43 127.17L147.53 127.24L147.63 127.30M154.47 131.10L154.57 131.15L154.67 131.21L154.77 131.26L154.88 131.31L154.98 131.36L155.08 131.41L155.18 131.46L155.28 131.51L155.39 131.56L155.49 131.61L155.59 131.66L155.69 131.71L155.79 131.76L155.90 131.81L156.00 131.86L156.10 131.91L156.20 131.96L156.30 132.01L156.41 132.06L156.51 132.11L156.61 132.16L156.71 132.21L156.81 132.26L156.92 132.31L157.02 132.36L157.12 132.41L157.22 132.46L157.32 132.51L157.43 132.55L157.53 132.60L157.63 132.65L157.73 132.70L157.84 132.75L157.94 132.80L158.04 132.84L158.14 132.89L158.24 132.94L158.35 132.99L158.45 133.03L158.55 133.08L158.65 133.13L158.75 133.18L158.86 133.22L158.96 133.27L159.06 133.32L159.16 133.36L159.26 133.41L159.37 133.46L159.47 133.51L159.57 133.55L159.67 133.60L159.77 133.64L159.88 133.69L159.98 133.74L160.08 133.78L160.18 133.83L160.28 133.87L160.39 133.92L160.49 133.96L160.59 134.01L160.69 134.06L160.79 134.10L160.90 134.15L161.00 134.19L161.10 134.24L161.20 134.28M168.34 137.11L168.45 137.15L168.55 137.18L168.65 137.22L168.75 137.25L168.85 137.29L168.96 137.33L169.06 137.36L169.16 137.40L169.26 137.43L169.36 137.46L169.47 137.50L169.57 137.53L169.67 137.57L169.77 137.60L169.88 137.64L169.98 137.67L170.08 137.70L170.18 137.74L170.28 137.77L170.39 137.80L170.49 137.84L170.59 137.87L170.69 137.90L170.79 137.93L170.90 137.97L171.00 138.00L171.10 138.03L171.20 138.06L171.30 138.09L171.41 138.13L171.51 138.16L171.61 138.19L171.71 138.22L171.81 138.25L171.92 138.28L172.02 138.31L172.12 138.34L172.22 138.38L172.32 138.41L172.43 138.44L172.53 138.47L172.63 138.50L172.73 138.53L172.83 138.56L172.94 138.59L173.04 138.62L173.14 138.65L173.24 138.67L173.34 138.70L173.45 138.73L173.55 138.76L173.65 138.79L173.75 138.82L173.85 138.85L173.96 138.88L174.06 138.91L174.16 138.93L174.26 138.96L174.36 138.99L174.47 139.02L174.57 139.05L174.67 139.07L174.77 139.10L174.87 139.13L174.98 139.16L175.08 139.18L175.18 139.21L175.28 139.24M182.63 140.97L182.73 140.99L182.83 141.02L182.94 141.04L183.04 141.06L183.14 141.08L183.24 141.10L183.34 141.12L183.45 141.14L183.55 141.16L183.65 141.19L183.75 141.21L183.85 141.23L183.96 141.25L184.06 141.27L184.16 141.29L184.26 141.31L184.36 141.33L184.47 141.35L184.57 141.37L184.67 141.39L184.77 141.41L184.87 141.43L184.98 141.45L185.08 141.48L185.18 141.50L185.28 141.52L185.38 141.54L185.49 141.56L185.59 141.58L185.69 141.60L185.79 141.62L185.89 141.64L186.00 141.66L186.10 141.68L186.20 141.70L186.30 141.72L186.40 141.74L186.51 141.76L186.61 141.78L186.71 141.79L186.81 141.81L186.91 141.83L187.02 141.85L187.12 141.87L187.22 141.89L187.32 141.91L187.42 141.93L187.53 141.95L187.63 141.97L187.73 141.99L187.83 142.01L187.94 142.03L188.04 142.05L188.14 142.07L188.24 142.09L188.34 142.10L188.45 142.12L188.55 142.14L188.65 142.16L188.75 142.18L188.85 142.20L188.96 142.22L189.06 142.24L189.16 142.26L189.26 142.27L189.36 142.29L189.47 142.31L189.57 142.33L189.67 142.35L189.77 142.37M197.22 143.67L197.32 143.69L197.42 143.71L197.53 143.72L197.63 143.74L197.73 143.76L197.83 143.77L197.93 143.79L198.04 143.81L198.14 143.82L198.24 143.84L198.34 143.86L198.44 143.87L198.55 143.89L198.65 143.91L198.75 143.92L198.85 143.94L198.95 143.96L199.06 143.97L199.16 143.99L199.26 144.01L199.36 144.02L199.46 144.04L199.57 144.06L199.67 144.07L199.77 144.09L199.87 144.11L199.98 144.12L200.08 144.14L200.18 144.16L200.28 144.17L200.38 144.19L200.49 144.20L200.59 144.22L200.69 144.24L200.79 144.25L200.89 144.27L201.00 144.28L201.10 144.30L201.20 144.32L201.30 144.33L201.40 144.35L201.51 144.37L201.61 144.38L201.71 144.40L201.81 144.41L201.91 144.43L202.02 144.44L202.12 144.46L202.22 144.48L202.32 144.49L202.42 144.51L202.53 144.52L202.63 144.54L202.73 144.55L202.83 144.57L202.93 144.59L203.04 144.60L203.14 144.62L203.24 144.63L203.34 144.65L203.44 144.66L203.55 144.68L203.65 144.69L203.75 144.71L203.85 144.72L203.95 144.74L204.06 144.75L204.16 144.77L204.26 144.79M211.81 145.82L211.91 145.83L212.02 145.84L212.12 145.86L212.22 145.87L212.32 145.88L212.42 145.89L212.53 145.91L212.63 145.92L212.73 145.93L212.83 145.94L212.93 145.96L213.04 145.97L213.14 145.98L213.24 145.99L213.34 146.01L213.44 146.02"/>
<path class="c black" d="M60.50 116.04L61.46 114.27L62.42 112.49L63.38 110.69L64.34 108.88L65.30 107.04L66.27 105.17L67.23 103.28L68.19 101.37L69.15 99.43L70.11 97.46L71.08 95.48L72.04 93.48L73.00 91.47L73.96 89.47L74.92 87.47L75.89 85.48L76.85 83.50L77.81 81.53L78.77 79.57L79.73 77.62L80.70 75.69L81.66 73.76L82.62 71.84L83.58 69.92L84.54 68.02L85.51 66.13L86.47 64.29L87.43 62.51L88.39 60.81L89.35 59.20L90.32 57.70L91.28 56.31L92.24 55.05L93.20 53.93L94.16 52.96L95.12 52.15L96.09 51.49L97.05 50.99L98.01 50.65L98.97 50.48L99.93 50.47L100.90 50.62L101.86 50.93L102.82 51.39L103.78 51.98L104.74 52.69L105.71 53.51L106.67 54.44L107.63 55.45L108.59 56.54L109.55 57.66L110.52 58.83L111.48 60.02L112.44 61.24L113.40 62.49L114.36 63.76L115.33 65.05L116.29 66.37L117.25 67.70L118.21 69.04L119.17 70.39L120.14 71.76L121.10 73.13L122.06 74.52L123.02 75.92L123.98 77.33L124.94 78.76L125.91 80.19L126.87 81.62L127.83 83.05L128.79 84.48L129.75 85.90L130.72 87.32L131.68 88.74L132.64 90.16L133.60 91.58L134.56 92.99L135.53 94.38L136.49 95.75L137.45 97.08L138.41 98.37L139.37 99.62L140.34 100.81L141.30 101.94L142.26 103.03L143.22 104.07L144.18 105.08L145.15 106.05L146.11 107.00L147.07 107.93L148.03 108.83L148.99 109.72L149.96 110.59L150.92 111.44L151.88 112.27L152.84 113.08L153.80 113.87L154.77 114.65L155.73 115.41L156.69 116.15L157.65 116.89L158.61 117.61L159.57 118.32L160.54 119.03L161.50 119.72L162.46 120.40L163.42 121.08L164.38 121.75L165.35 122.42L166.31 123.08L167.27 123.73L168.23 124.37L169.19 125.00L170.16 125.61L171.12 126.19L172.08 126.75L173.04 127.29L174.00 127.80L174.97 128.28L175.93 128.75L176.89 129.21L177.85 129.65L178.81 130.08L179.78 130.50L180.74 130.91L181.70 131.31L182.66 131.70L183.62 132.08L184.59 132.45L185.55 132.81L186.51 133.17L187.47 133.52L188.43 133.86L189.39 134.19L190.36 134.52L191.32 134.84L192.28 135.16L193.24 135.47L194.20 135.77L195.17 136.07L196.13 136.37L197.09 136.66L198.05 136.94L199.01 137.22L199.98 137.50L200.94 137.77L201.90 138.04L202.86 138.30L203.82 138.55L204.79 138.80L205.75 139.05L206.71 139.29L207.67 139.52L208.63 139.74L209.60 139.96L210.56 140.18L211.52 140.38L212.48 140.58L213.44 140.78"/>
<text class="tk" x="25.10" y="16.70" text-anchor="end">1.0</text>
<text class="tk" x="239.80" y="16.70">1.0</text>
<text class="tk" x="25.10" y="45.78" text-anchor="end">0.8</text>
<text class="tk" x="239.80" y="45.78">0.8</text>
<text class="tk" x="25.10" y="74.86" text-anchor="end">0.6</text>
<text class="tk" x="239.80" y="74.86">0.6</text>
<text class="tk" x="25.10" y="103.94" text-anchor="end">0.4</text>
<text class="tk" x="239.80" y="103.94">0.4</text>
<text class="tk" x="25.10" y="133.02" text-anchor="end">0.2</text>
<text class="tk" x="239.80" y="133.02">0.2</text>
<text class="tk" x="25.10" y="162.10" text-anchor="end">0.0</text>
<text class="tk" x="239.80" y="162.10">0.0</text>
<text class="tk" x="29.20" y="176.70" text-anchor="middle">-40</text>
<text class="tk" x="49.73" y="176.70" text-anchor="middle">-30</text>
<text class="tk" x="70.26" y="176.70" text-anchor="middle">-20</text>
<text class="tk" x="90.79" y="176.70" text-anchor="middle">-10</text>
<text class="tk" x="111.82" y="176.70" text-anchor="middle">0</text>
<text class="tk" x="132.35" y="176.70" text-anchor="middle">10</text>
<text class="tk" x="152.88" y="176.70" text-anchor="middle">20</text>
<text class="tk" x="173.41" y="176.70" text-anchor="middle">30</text>
<text class="tk" x="193.94" y="176.70" text-anchor="middle">40</text>
<text class="tk" x="214.47" y="176.70" text-anchor="middle">50</text>
<text class="tk" x="235.00" y="176.70" text-anchor="middle">60</text>
<text class="at" text-anchor="middle" transform="translate(10.50 87.30) rotate(-90)"><tspan class="gk">σ, σ</tspan><tspan class="sub" dy="1.8">c</tspan><tspan class="pr" dy="-2.1"> (-)</tspan></text>
<text class="at" text-anchor="middle" transform="translate(260.20 86.50) rotate(-90)">C<tspan class="sub" dy="1.8">b</tspan><tspan class="pr" dy="-2.1"> (-)</tspan></text>
<text class="at xl" text-anchor="middle" x="132.05" y="188.70">L' (-)</text>
<text class="cap" text-anchor="middle" x="133.55" y="206.00">(<tspan class="b">a</tspan>)</text>
</g>
<g class="panel">
<path class="grid" d="M302.85 13.80 V159.20M323.38 13.80 V159.20M343.91 13.80 V159.20M364.44 13.80 V159.20M384.97 13.80 V159.20M405.50 13.80 V159.20M426.03 13.80 V159.20M446.56 13.80 V159.20M467.09 13.80 V159.20M487.62 13.80 V159.20M508.15 13.80 V159.20M302.85 13.80 H508.15M302.85 28.34 H508.15M302.85 42.88 H508.15M302.85 57.42 H508.15M302.85 71.96 H508.15M302.85 86.50 H508.15M302.85 101.04 H508.15M302.85 115.58 H508.15M302.85 130.12 H508.15M302.85 144.66 H508.15M302.85 159.20 H508.15"/>
<path class="axis" d="M302.55 13.80 V166.00 M302.85 159.20 H508.15 M302.85 159.20 V166.00M323.38 159.20 V166.00M343.91 159.20 V166.00M364.44 159.20 V166.00M384.97 159.20 V166.00M405.50 159.20 V166.00M426.03 159.20 V166.00M446.56 159.20 V166.00M467.09 159.20 V166.00M487.62 159.20 V166.00M508.15 159.20 V166.00"/>
<path class="axisr" d="M508.45 13.80 V159.20"/>
<path class="c blue" d="M336.01 18.00L336.76 19.90L337.52 21.75L338.28 23.54L339.03 25.29L339.79 26.98L340.55 28.62L341.30 30.21L342.06 31.75L342.82 33.24L343.57 34.68L344.33 36.08L345.09 37.43L345.84 38.74L346.60 40.01L347.36 41.25L348.11 42.46L348.87 43.65L349.63 44.82L350.38 45.97L351.14 47.11L351.90 48.23L352.65 49.35L353.41 50.47L354.17 51.57L354.92 52.67L355.68 53.77L356.44 54.86L357.19 55.94L357.95 57.01L358.71 58.07L359.46 59.12L360.22 60.16L360.98 61.17L361.73 62.17L362.49 63.15L363.25 64.11L364.00 65.05L364.76 65.96L365.52 66.85L366.27 67.71L367.03 68.54L367.79 69.35L368.54 70.13L369.30 70.89L370.06 71.62L370.82 72.33L371.57 73.02L372.33 73.69L373.09 74.34L373.84 74.96L374.60 75.58L375.36 76.18L376.11 76.76L376.87 77.33L377.63 77.89L378.38 78.44L379.14 78.98L379.90 79.52L380.65 80.05L381.41 80.57L382.17 81.09L382.92 81.60L383.68 82.11L384.44 82.61L385.19 83.31L385.95 83.99L386.71 84.66L387.46 85.33L388.22 85.99L388.98 86.65L389.73 87.30L390.49 87.95L391.25 88.59L392.00 89.22L392.76 89.85L393.52 90.46L394.27 91.06L395.03 91.65L395.79 92.23L396.54 92.79L397.30 93.35L398.06 93.89L398.81 94.42L399.57 94.94L400.33 95.45L401.08 95.95L401.84 96.43L402.60 96.91L403.35 97.37L404.11 97.83L404.87 98.27L405.62 98.70L406.38 99.12L407.14 99.53L407.89 99.93L408.65 100.32L409.41 100.71L410.16 101.09L410.92 101.46L411.68 101.84L412.43 102.20L413.19 102.57L413.95 102.92L414.70 103.28L415.46 103.63L416.22 103.97L416.98 104.31L417.73 104.65L418.49 104.98L419.25 105.31L420.00 105.63L420.76 105.95L421.52 106.26L422.27 106.57L423.03 106.88L423.79 107.18L424.54 107.48L425.30 107.78L426.06 108.07L426.81 108.37L427.57 108.65L428.33 108.94L429.08 109.22L429.84 109.51L430.60 109.78L431.35 110.06L432.11 110.34L432.87 110.61L433.62 110.88L434.38 111.14L435.14 111.41L435.89 111.67L436.65 111.92L437.41 112.18L438.16 112.43L438.92 112.67L439.68 112.91L440.43 113.15L441.19 113.38L441.95 113.62L442.70 113.84L443.46 114.07L444.22 114.29L444.97 114.50L445.73 114.71L446.49 114.91L447.24 115.10L448.00 115.29L448.76 115.48L449.51 115.66L450.27 115.83L451.03 116.00L451.78 116.17L452.54 116.33L453.30 116.49L454.05 116.65L454.81 116.80L455.57 116.95L456.32 117.09L457.08 117.24L457.84 117.38L458.59 117.52L459.35 117.66L460.11 117.80L460.86 117.94L461.62 118.07L462.38 118.21L463.14 118.34L463.89 118.47L464.65 118.60L465.41 118.74L466.16 118.87L466.92 119.00L467.68 119.12L468.43 119.25L469.19 119.38L469.95 119.51L470.70 119.63L471.46 119.76L472.22 119.88L472.97 120.00L473.73 120.12L474.49 120.24L475.24 120.36L476.00 120.48L476.76 120.60L477.51 120.71L478.27 120.82L479.03 120.94L479.78 121.05L480.54 121.16L481.30 121.26L482.05 121.37L482.81 121.47L483.57 121.58L484.32 121.68L485.08 121.78L485.84 121.88L486.59 121.98"/>
<path class="c red" d="M333.85 88.46L334.16 88.36L334.48 88.27L334.79 88.17L335.11 88.08L335.42 87.98L335.73 87.89L336.05 87.79L336.36 87.70L336.67 87.61L336.99 87.52L337.30 87.43L337.62 87.34L337.93 87.25L338.24 87.16L338.56 87.07L338.87 86.99L339.18 86.90L339.50 86.82L339.81 86.73L340.13 86.65L340.44 86.57L340.75 86.49L341.07 86.41L341.38 86.33L341.69 86.25L342.01 86.17L342.32 86.10L342.64 86.02L342.95 85.95L343.26 85.87L343.58 85.80L343.89 85.73L344.20 85.66L344.52 85.59L344.83 85.52L345.15 85.45L345.46 85.38L345.77 85.32L346.09 85.25L346.40 85.19L346.71 85.12L347.03 85.06L347.34 85.00L347.66 84.94L347.97 84.87L348.28 84.81L348.60 84.75L348.91 84.69L349.22 84.63L349.54 84.57L349.85 84.52L350.17 84.46L350.48 84.40L350.79 84.34L351.11 84.29L351.42 84.23L351.73 84.17L352.05 84.12L352.36 84.06L352.68 84.00L352.99 83.95L353.30 83.89L353.62 83.84L353.93 83.78L354.24 83.73L354.56 83.67L354.87 83.62L355.19 83.57L355.50 83.51L355.81 83.46L356.13 83.40L356.44 83.35L356.75 83.30L357.07 83.24L357.38 83.19L357.70 83.14L358.01 83.09L358.32 83.03L358.64 82.98L358.95 82.93L359.26 82.88L359.58 82.83L359.89 82.78L360.21 82.73L360.52 82.68L360.83 82.63L361.15 82.58L361.46 82.53L361.77 82.48L362.09 82.43L362.40 82.38L362.72 82.33L363.03 82.29L363.34 82.24L363.66 82.19L363.97 82.14L364.29 82.10L364.60 82.05L364.91 82.01L365.23 81.96L365.54 81.92L365.85 81.87L366.17 81.83L366.48 81.78L366.80 81.74L367.11 81.70L367.42 81.66L367.74 81.61L368.05 81.57L368.36 81.53L368.68 81.49L368.99 81.44L369.31 81.40L369.62 81.36L369.93 81.32L370.25 81.28L370.56 81.24L370.87 81.19L371.19 81.15L371.50 81.11L371.82 81.07L372.13 81.03L372.44 80.99L372.76 80.94L373.07 80.90L373.38 80.86L373.70 80.82L374.01 80.77L374.33 80.73L374.64 80.69L374.95 80.64L375.27 80.60L375.58 80.56L375.89 80.51L376.21 80.47L376.52 80.42L376.84 80.38L377.15 80.34L377.46 80.29L377.78 80.25L378.09 80.20L378.40 80.16L378.72 80.11L379.03 80.07L379.35 80.02L379.66 79.97L379.97 79.93L380.29 79.88L380.60 79.84L380.91 79.79L381.23 79.75L381.54 79.70L381.86 79.65L382.17 79.61L382.48 79.56L382.80 79.51L383.11 79.47L383.42 79.42L383.74 79.37"/>
<rect class="band" x="360.33" y="14.30" width="34.39" height="144.90" fill="rgb(211,211,211)"/>
<rect class="band" x="380.86" y="14.30" width="4.52" height="144.90" fill="rgb(250,220,215)"/>
<path class="bg gray" d="M364.44 14.30 V159.20M360.33 28.34 H380.86M360.33 42.88 H380.86M360.33 57.42 H380.86M360.33 71.96 H380.86M360.33 86.50 H380.86M360.33 101.04 H380.86M360.33 115.58 H380.86M360.33 130.12 H380.86M360.33 144.66 H380.86M360.33 159.20 H380.86M385.38 28.34 H394.72M385.38 42.88 H394.72M385.38 57.42 H394.72M385.38 71.96 H394.72M385.38 86.50 H394.72M385.38 101.04 H394.72M385.38 115.58 H394.72M385.38 130.12 H394.72M385.38 144.66 H394.72M385.38 159.20 H394.72"/>
<path class="bg pink" d="M384.97 14.30 V159.20M380.86 28.34 H385.38M380.86 42.88 H385.38M380.86 57.42 H385.38M380.86 71.96 H385.38M380.86 86.50 H385.38M380.86 101.04 H385.38M380.86 115.58 H385.38M380.86 130.12 H385.38M380.86 144.66 H385.38M380.86 159.20 H385.38"/>
<path class="c cb" d="M384.97 158.42L385.61 157.58L386.25 156.75L386.89 155.93L387.53 155.11L388.17 154.29L388.80 153.48L389.44 152.67L390.08 151.87L390.72 151.07L391.36 150.29L392.00 149.51L392.64 148.75L393.28 148.00L393.92 147.26L394.56 146.54L395.20 145.84L395.84 145.15L396.47 144.48L397.11 143.82L397.75 143.18L398.39 142.55L399.03 141.94L399.67 141.34L400.31 140.75L400.95 140.18L401.59 139.61L402.23 139.06L402.87 138.53L403.51 138.01L404.14 137.50L404.78 137.00L405.42 136.52L406.06 136.05L406.70 135.59L407.34 135.14L407.98 134.70L408.62 134.28L409.26 133.86L409.90 133.45L410.54 133.04L411.17 132.65L411.81 132.25L412.45 131.87L413.09 131.49L413.73 131.11L414.37 130.74L415.01 130.38L415.65 130.02L416.29 129.67L416.93 129.33L417.57 128.99L418.21 128.66L418.84 128.34L419.48 128.02L420.12 127.71L420.76 127.41L421.40 127.11L422.04 126.82L422.68 126.53L423.32 126.25L423.96 125.97L424.60 125.70L425.24 125.44L425.88 125.18L426.51 124.92L427.15 124.67L427.79 124.43L428.43 124.19L429.07 123.96L429.71 123.73L430.35 123.50L430.99 123.28L431.63 123.07L432.27 122.86L432.91 122.65L433.54 122.45L434.18 122.25L434.82 122.05L435.46 121.86L436.10 121.68L436.74 121.50L437.38 121.32L438.02 121.14L438.66 120.97L439.30 120.79L439.94 120.62L440.58 120.45L441.21 120.28L441.85 120.11L442.49 119.93L443.13 119.76L443.77 119.59L444.41 119.42L445.05 119.26L445.69 119.10L446.33 118.94L446.97 118.79L447.61 118.64L448.25 118.50L448.88 118.36L449.52 118.22L450.16 118.08L450.80 117.95L451.44 117.82L452.08 117.69L452.72 117.56L453.36 117.44L454.00 117.31L454.64 117.19L455.28 117.07L455.91 116.95L456.55 116.83L457.19 116.72L457.83 116.61L458.47 116.49L459.11 116.38L459.75 116.28L460.39 116.17L461.03 116.06L461.67 115.96L462.31 115.86L462.95 115.76L463.58 115.66L464.22 115.57L464.86 115.47L465.50 115.38L466.14 115.29L466.78 115.19L467.42 115.11L468.06 115.02L468.70 114.93L469.34 114.85L469.98 114.76L470.61 114.68L471.25 114.59L471.89 114.51L472.53 114.43L473.17 114.35L473.81 114.27L474.45 114.20L475.09 114.12L475.73 114.04L476.37 113.97L477.01 113.90L477.65 113.83L478.28 113.76L478.92 113.69L479.56 113.62L480.20 113.55L480.84 113.49L481.48 113.42L482.12 113.36L482.76 113.30L483.40 113.24L484.04 113.19L484.68 113.13L485.32 113.07L485.95 113.02L486.59 112.97"/>
<path class="c cbt" d="M385.15 158.18 L383.17 155.42M387.48 155.17 L385.51 152.39M389.83 152.19 L387.90 149.39M392.23 149.24 L390.35 146.40M394.71 146.37 L392.94 143.46M397.32 143.61 L395.67 140.64M400.06 140.97 L398.53 137.94M402.93 138.48 L401.52 135.38M405.93 136.14 L404.66 132.99M409.06 133.99 L407.91 130.79M412.28 131.97 L411.20 128.75M415.56 130.07 L414.57 126.82M418.93 128.30 L418.03 125.02M422.36 126.67 L421.55 123.37M425.86 125.18 L425.12 121.86M429.41 123.83 L428.75 120.50M433.01 122.62 L432.42 119.27M436.65 121.52 L436.12 118.16M440.31 120.52 L439.82 117.16M443.98 119.54 L443.49 116.17M447.67 118.63 L447.25 115.25M451.39 117.83 L451.01 114.45M455.12 117.10 L454.77 113.72M458.86 116.43 L458.54 113.04M462.61 115.81 L462.32 112.43M466.37 115.25 L466.10 111.86M470.13 114.74 L469.89 111.35M473.90 114.26 L473.67 110.87M477.67 113.82 L477.47 110.43M481.45 113.43 L481.27 110.03M485.24 113.08 L485.08 109.68"/>
<path class="c dotted" d="M333.23 144.64L333.34 144.56L333.44 144.49L333.54 144.41L333.64 144.33L333.75 144.26L333.85 144.18L333.95 144.10L334.05 144.03L334.16 143.95L334.26 143.87L334.36 143.79L334.46 143.72L334.56 143.64L334.67 143.56L334.77 143.48L334.87 143.41L334.97 143.33L335.08 143.25L335.18 143.17L335.28 143.09L335.38 143.01L335.49 142.94L335.59 142.86L335.69 142.78L335.79 142.70L335.89 142.62L336.00 142.54L336.10 142.46M338.86 140.26L338.96 140.18L339.07 140.10L339.17 140.01L339.27 139.93L339.37 139.85L339.48 139.76L339.58 139.68L339.68 139.59L339.78 139.51L339.88 139.42L339.99 139.34L340.09 139.25L340.19 139.17L340.29 139.08L340.40 139.00L340.50 138.91L340.60 138.83L340.70 138.74L340.81 138.66L340.91 138.57L341.01 138.48L341.11 138.40L341.21 138.31L341.32 138.22L341.42 138.14L341.52 138.05M344.18 135.72L344.28 135.62L344.39 135.53L344.49 135.44L344.59 135.35L344.69 135.25L344.80 135.16L344.90 135.07L345.00 134.97L345.10 134.88L345.20 134.78L345.31 134.69L345.41 134.59L345.51 134.50L345.61 134.40L345.72 134.31L345.82 134.21L345.92 134.12L346.02 134.02L346.13 133.92L346.23 133.83L346.33 133.73L346.43 133.64L346.53 133.54L346.64 133.44L346.74 133.35M349.40 130.82L349.50 130.73L349.60 130.63L349.71 130.54L349.81 130.44L349.91 130.35L350.01 130.26L350.12 130.16L350.22 130.07L350.32 129.97L350.42 129.88L350.52 129.79L350.63 129.70L350.73 129.60L350.83 129.51L350.93 129.42L351.04 129.33L351.14 129.24L351.24 129.15L351.34 129.06L351.45 128.97L351.55 128.88L351.65 128.79L351.75 128.70L351.85 128.61L351.96 128.52L352.06 128.43M354.72 126.24L354.82 126.16L354.92 126.08L355.03 126.00L355.13 125.92L355.23 125.84L355.33 125.76L355.44 125.68L355.54 125.60L355.64 125.52L355.74 125.44L355.84 125.37L355.95 125.29L356.05 125.21L356.15 125.13L356.25 125.06L356.36 124.98L356.46 124.90L356.56 124.83L356.66 124.75L356.77 124.67L356.87 124.60L356.97 124.52L357.07 124.45L357.17 124.37L357.28 124.30L357.38 124.22L357.48 124.15L357.58 124.08M360.45 122.11L360.55 122.04L360.65 121.98L360.76 121.91L360.86 121.84L360.96 121.78L361.06 121.71L361.16 121.65L361.27 121.58L361.37 121.52L361.47 121.46L361.57 121.39L361.68 121.33L361.78 121.26L361.88 121.20L361.98 121.14L362.09 121.08L362.19 121.01L362.29 120.95L362.39 120.89L362.49 120.83L362.60 120.77L362.70 120.71L362.80 120.65L362.90 120.58L363.01 120.52L363.11 120.46L363.21 120.41L363.31 120.35M366.38 118.71L366.48 118.66L366.59 118.61L366.69 118.56L366.79 118.51L366.89 118.46L367.00 118.42L367.10 118.37L367.20 118.32L367.30 118.28L367.41 118.23L367.51 118.19L367.61 118.14L367.71 118.10L367.81 118.05L367.92 118.01L368.02 117.97L368.12 117.92L368.22 117.88L368.33 117.84L368.43 117.80L368.53 117.76L368.63 117.72L368.74 117.68L368.84 117.64L368.94 117.60L369.04 117.56L369.14 117.52L369.25 117.49L369.35 117.45L369.45 117.41M372.73 116.58L372.83 116.57L372.93 116.56L373.03 116.54L373.13 116.53L373.24 116.52L373.34 116.51L373.44 116.50L373.54 116.49L373.65 116.48L373.75 116.48L373.85 116.47L373.95 116.47L374.06 116.46L374.16 116.46L374.26 116.45L374.36 116.45L374.46 116.45L374.57 116.45L374.67 116.45L374.77 116.45L374.87 116.46L374.98 116.46L375.08 116.46L375.18 116.47L375.28 116.47L375.39 116.48L375.49 116.49L375.59 116.49L375.69 116.50L375.79 116.51L375.90 116.52L376.00 116.53M379.27 117.26L379.38 117.29L379.48 117.33L379.58 117.36L379.68 117.40L379.78 117.43L379.89 117.47L379.99 117.50L380.09 117.54L380.19 117.58L380.30 117.61L380.40 117.65L380.50 117.69L380.60 117.73L380.71 117.77L380.81 117.81L380.91 117.85L381.01 117.89L381.11 117.93L381.22 117.97L381.32 118.01L381.42 118.05L381.52 118.09L381.63 118.13L381.73 118.18L381.83 118.22L381.93 118.26L382.04 118.31L382.14 118.35L382.24 118.39L382.34 118.44M385.41 119.90L385.51 119.95L385.62 120.01L385.72 120.06L385.82 120.11L385.92 120.17L386.03 120.22L386.13 120.28L386.23 120.33L386.33 120.39L386.43 120.45L386.54 120.50L386.64 120.56L386.74 120.62L386.84 120.67L386.95 120.73L387.05 120.79L387.15 120.85L387.25 120.90L387.36 120.96L387.46 121.02L387.56 121.08L387.66 121.14L387.76 121.20L387.87 121.26L387.97 121.32L388.07 121.38L388.17 121.44L388.28 121.50L388.38 121.56M391.35 123.32L391.45 123.37L391.55 123.43L391.65 123.49L391.75 123.55L391.86 123.61L391.96 123.67L392.06 123.73L392.16 123.79L392.27 123.85L392.37 123.91L392.47 123.97L392.57 124.02L392.68 124.08L392.78 124.14L392.88 124.20L392.98 124.26L393.08 124.31L393.19 124.37L393.29 124.43L393.39 124.49L393.49 124.54L393.60 124.60L393.70 124.66L393.80 124.72L393.90 124.77L394.01 124.83L394.11 124.89L394.21 124.95L394.31 125.00L394.41 125.06M397.38 126.72L397.48 126.78L397.59 126.84L397.69 126.90L397.79 126.96L397.89 127.02L398.00 127.07L398.10 127.13L398.20 127.19L398.30 127.25L398.40 127.31L398.51 127.37L398.61 127.43L398.71 127.49L398.81 127.55L398.92 127.61L399.02 127.67L399.12 127.73L399.22 127.79L399.33 127.85L399.43 127.91L399.53 127.97L399.63 128.03L399.73 128.09L399.84 128.15L399.94 128.21L400.04 128.27L400.14 128.33L400.25 128.39L400.35 128.45M403.32 130.25L403.42 130.32L403.52 130.38L403.62 130.44L403.72 130.50L403.83 130.56L403.93 130.63L404.03 130.69L404.13 130.75L404.24 130.81L404.34 130.87L404.44 130.94L404.54 131.00L404.65 131.06L404.75 131.12L404.85 131.18L404.95 131.24L405.05 131.30L405.16 131.36L405.26 131.42L405.36 131.48L405.46 131.54L405.57 131.60L405.67 131.66L405.77 131.72L405.87 131.78L405.98 131.84L406.08 131.90L406.18 131.95M409.25 133.54L409.35 133.58L409.45 133.63L409.56 133.68L409.66 133.73L409.76 133.77L409.86 133.82L409.97 133.86L410.07 133.91L410.17 133.96L410.27 134.00L410.37 134.05L410.48 134.09L410.58 134.14L410.68 134.18L410.78 134.23L410.89 134.27L410.99 134.32L411.09 134.36L411.19 134.40L411.30 134.45L411.40 134.49L411.50 134.53L411.60 134.58L411.70 134.62L411.81 134.66L411.91 134.71L412.01 134.75L412.11 134.79L412.22 134.83L412.32 134.88M415.49 136.15L415.59 136.19L415.69 136.23L415.80 136.27L415.90 136.31L416.00 136.35L416.10 136.39L416.21 136.43L416.31 136.47L416.41 136.50L416.51 136.54L416.62 136.58L416.72 136.62L416.82 136.66L416.92 136.70L417.02 136.74L417.13 136.78L417.23 136.82L417.33 136.86L417.43 136.89L417.54 136.93L417.64 136.97L417.74 137.01L417.84 137.05L417.95 137.09L418.05 137.13L418.15 137.16L418.25 137.20L418.35 137.24L418.46 137.28L418.56 137.32L418.66 137.35M421.83 138.49L421.94 138.52L422.04 138.56L422.14 138.59L422.24 138.63L422.34 138.66L422.45 138.69L422.55 138.73L422.65 138.76L422.75 138.80L422.86 138.83L422.96 138.87L423.06 138.90L423.16 138.93L423.27 138.97L423.37 139.00L423.47 139.03L423.57 139.07L423.67 139.10L423.78 139.13L423.88 139.17L423.98 139.20L424.08 139.23L424.19 139.27L424.29 139.30L424.39 139.33L424.49 139.36L424.60 139.40L424.70 139.43L424.80 139.46L424.90 139.49L425.00 139.53M428.18 140.48L428.28 140.51L428.38 140.54L428.48 140.57L428.59 140.60L428.69 140.63L428.79 140.66L428.89 140.69L428.99 140.72L429.10 140.75L429.20 140.77L429.30 140.80L429.40 140.83L429.51 140.86L429.61 140.89L429.71 140.92L429.81 140.95L429.92 140.98L430.02 141.01L430.12 141.04L430.22 141.06L430.32 141.09L430.43 141.12L430.53 141.15L430.63 141.18L430.73 141.21L430.84 141.24L430.94 141.26L431.04 141.29L431.14 141.32L431.25 141.35L431.35 141.38M434.62 142.25L434.72 142.28L434.83 142.31L434.93 142.33L435.03 142.36L435.13 142.39L435.24 142.41L435.34 142.44L435.44 142.46L435.54 142.49L435.64 142.52L435.75 142.54L435.85 142.57L435.95 142.59L436.05 142.62L436.16 142.64L436.26 142.67L436.36 142.70L436.46 142.72L436.57 142.75L436.67 142.77L436.77 142.80L436.87 142.82L436.97 142.85L437.08 142.87L437.18 142.90L437.28 142.92L437.38 142.95L437.49 142.97L437.59 143.00L437.69 143.02L437.79 143.05L437.90 143.07M441.07 143.81L441.17 143.83L441.27 143.86L441.37 143.88L441.48 143.90L441.58 143.92L441.68 143.95L441.78 143.97L441.89 143.99L441.99 144.01L442.09 144.03L442.19 144.06L442.29 144.08L442.40 144.10L442.50 144.12L442.60 144.14L442.70 144.17L442.81 144.19L442.91 144.21L443.01 144.23L443.11 144.25L443.22 144.27L443.32 144.29L443.42 144.32L443.52 144.34L443.62 144.36L443.73 144.38L443.83 144.40L443.93 144.42L444.03 144.44L444.14 144.46L444.24 144.48L444.34 144.50M447.61 145.13L447.72 145.15L447.82 145.17L447.92 145.19L448.02 145.20L448.13 145.22L448.23 145.24L448.33 145.26L448.43 145.28L448.54 145.30L448.64 145.31L448.74 145.33L448.84 145.35L448.94 145.37L449.05 145.39L449.15 145.40L449.25 145.42L449.35 145.44L449.46 145.46L449.56 145.47L449.66 145.49L449.76 145.51L449.87 145.53L449.97 145.54L450.07 145.56L450.17 145.58L450.27 145.60L450.38 145.61L450.48 145.63L450.58 145.65L450.68 145.67L450.79 145.68L450.89 145.70M454.16 146.22L454.26 146.24L454.37 146.25L454.47 146.27L454.57 146.28L454.67 146.30L454.78 146.32L454.88 146.33L454.98 146.35L455.08 146.36L455.19 146.38L455.29 146.39L455.39 146.41L455.49 146.42L455.59 146.44L455.70 146.45L455.80 146.47L455.90 146.48L456.00 146.50L456.11 146.51L456.21 146.53L456.31 146.54L456.41 146.56L456.52 146.57L456.62 146.59L456.72 146.60L456.82 146.62L456.92 146.63L457.03 146.65L457.13 146.66L457.23 146.68L457.33 146.69L457.44 146.71M460.71 147.17L460.81 147.18L460.91 147.19L461.02 147.21L461.12 147.22L461.22 147.23L461.32 147.25L461.43 147.26L461.53 147.28L461.63 147.29L461.73 147.30L461.84 147.32L461.94 147.33L462.04 147.34L462.14 147.36L462.24 147.37L462.35 147.39L462.45 147.40L462.55 147.41L462.65 147.43L462.76 147.44L462.86 147.45L462.96 147.47L463.06 147.48L463.17 147.49L463.27 147.51L463.37 147.52L463.47 147.53L463.57 147.55L463.68 147.56L463.78 147.57L463.88 147.59L463.98 147.60M467.26 148.02L467.36 148.04L467.46 148.05L467.56 148.06L467.67 148.07L467.77 148.09L467.87 148.10L467.97 148.11L468.08 148.13L468.18 148.14L468.28 148.15L468.38 148.16L468.49 148.18L468.59 148.19L468.69 148.20L468.79 148.22L468.89 148.23L469.00 148.24L469.10 148.25L469.20 148.27L469.30 148.28L469.41 148.29L469.51 148.30L469.61 148.32L469.71 148.33L469.82 148.34L469.92 148.36L470.02 148.37L470.12 148.38L470.22 148.39L470.33 148.41L470.43 148.42L470.53 148.43M473.81 148.82L473.91 148.84L474.01 148.85L474.11 148.86L474.21 148.87L474.32 148.88L474.42 148.90L474.52 148.91L474.62 148.92L474.73 148.93L474.83 148.94L474.93 148.95L475.03 148.97L475.14 148.98L475.24 148.99L475.34 149.00L475.44 149.01L475.54 149.03L475.65 149.04L475.75 149.05L475.85 149.06L475.95 149.07L476.06 149.08L476.16 149.10L476.26 149.11L476.36 149.12L476.47 149.13L476.57 149.14L476.67 149.15L476.77 149.16L476.87 149.18L476.98 149.19L477.08 149.20M480.35 149.56L480.46 149.57L480.56 149.58L480.66 149.59L480.76 149.60L480.86 149.61L480.97 149.62L481.07 149.63L481.17 149.64L481.27 149.65L481.38 149.66L481.48 149.67L481.58 149.68L481.68 149.70L481.79 149.71L481.89 149.72L481.99 149.73L482.09 149.74L482.19 149.75L482.30 149.76L482.40 149.77L482.50 149.78L482.60 149.79L482.71 149.80L482.81 149.81L482.91 149.82L483.01 149.83L483.12 149.84L483.22 149.85L483.32 149.86L483.42 149.87L483.52 149.88L483.63 149.89"/>
<path class="c dashed" d="M333.65 132.67L333.75 132.58L333.85 132.49L333.95 132.40L334.05 132.31L334.16 132.22L334.26 132.13L334.36 132.04L334.46 131.94L334.56 131.85L334.67 131.75L334.77 131.66L334.87 131.56L334.97 131.47L335.07 131.37L335.18 131.27L335.28 131.18L335.38 131.08L335.48 130.98L335.58 130.88L335.69 130.78L335.79 130.67L335.89 130.57L335.99 130.47L336.09 130.37L336.20 130.26L336.30 130.16L336.40 130.05L336.50 129.94L336.60 129.83L336.71 129.73L336.81 129.62L336.91 129.51L337.01 129.40L337.11 129.29L337.22 129.17L337.32 129.06L337.42 128.95L337.52 128.83L337.62 128.72L337.73 128.60L337.83 128.48L337.93 128.36L338.03 128.25L338.13 128.13L338.24 128.01L338.34 127.88L338.44 127.76L338.54 127.64L338.64 127.52L338.75 127.39L338.85 127.27L338.95 127.14L339.05 127.01L339.15 126.88L339.26 126.75L339.36 126.62L339.46 126.49L339.56 126.36L339.66 126.23L339.77 126.10L339.87 125.96L339.97 125.83L340.07 125.69L340.18 125.56L340.28 125.42L340.38 125.28M345.17 118.24L345.28 118.09L345.38 117.94L345.48 117.80L345.58 117.65L345.68 117.50L345.79 117.35L345.89 117.20L345.99 117.05L346.09 116.91L346.20 116.76L346.30 116.61L346.40 116.47L346.50 116.32L346.60 116.17L346.71 116.03L346.81 115.88L346.91 115.74L347.01 115.59L347.11 115.45L347.22 115.30L347.32 115.15L347.42 115.01L347.52 114.86L347.62 114.72L347.73 114.57L347.83 114.43L347.93 114.28L348.03 114.13L348.13 113.99L348.24 113.84L348.34 113.69L348.44 113.55L348.54 113.40L348.64 113.25L348.75 113.10L348.85 112.95L348.95 112.80L349.05 112.65L349.15 112.50L349.26 112.35L349.36 112.20L349.46 112.05L349.56 111.90L349.66 111.75L349.77 111.60M354.46 104.48L354.56 104.33L354.66 104.18L354.77 104.03L354.87 103.88L354.97 103.73L355.07 103.58L355.17 103.43L355.28 103.28L355.38 103.13L355.48 102.99L355.58 102.84L355.68 102.69L355.79 102.55L355.89 102.40L355.99 102.25L356.09 102.11L356.19 101.96L356.30 101.81L356.40 101.67L356.50 101.52L356.60 101.38L356.70 101.23L356.81 101.09L356.91 100.94L357.01 100.80L357.11 100.66L357.21 100.51L357.32 100.37L357.42 100.22L357.52 100.08L357.62 99.94L357.72 99.79L357.83 99.65L357.93 99.51L358.03 99.36L358.13 99.22L358.24 99.08L358.34 98.94L358.44 98.80L358.54 98.65L358.64 98.51L358.75 98.37L358.85 98.23L358.95 98.09L359.05 97.95M364.56 91.68L364.66 91.59L364.77 91.51L364.87 91.43L364.97 91.35L365.07 91.27L365.17 91.19L365.28 91.11L365.38 91.03L365.48 90.95L365.58 90.88L365.68 90.81L365.79 90.73L365.89 90.66L365.99 90.59L366.09 90.52L366.19 90.45L366.30 90.39L366.40 90.32L366.50 90.25L366.60 90.19L366.70 90.13L366.81 90.06L366.91 90.00L367.01 89.94L367.11 89.88L367.21 89.83L367.32 89.77L367.42 89.71L367.52 89.66L367.62 89.61L367.72 89.55L367.83 89.50L367.93 89.45L368.03 89.40L368.13 89.35L368.23 89.31L368.34 89.26L368.44 89.22L368.54 89.17L368.64 89.13L368.74 89.09L368.85 89.04L368.95 89.00L369.05 88.97L369.15 88.93L369.25 88.89L369.36 88.85L369.46 88.82L369.56 88.79L369.66 88.75L369.76 88.72L369.87 88.69L369.97 88.66L370.07 88.63L370.17 88.60L370.28 88.58L370.38 88.55L370.48 88.53L370.58 88.51L370.68 88.48L370.79 88.46L370.89 88.44L370.99 88.42L371.09 88.41M378.34 90.00L378.44 90.06L378.54 90.12L378.64 90.18L378.74 90.24L378.85 90.30L378.95 90.36L379.05 90.42L379.15 90.48L379.25 90.55L379.36 90.61L379.46 90.68L379.56 90.74L379.66 90.81L379.76 90.88L379.87 90.94L379.97 91.01L380.07 91.08L380.17 91.15L380.27 91.22L380.38 91.29L380.48 91.37L380.58 91.44L380.68 91.51L380.78 91.59L380.89 91.66L380.99 91.74L381.09 91.81L381.19 91.89L381.29 91.97L381.40 92.05L381.50 92.13L381.60 92.21L381.70 92.29L381.80 92.37L381.91 92.45L382.01 92.53L382.11 92.61L382.21 92.70L382.32 92.78L382.42 92.86L382.52 92.95L382.62 93.03L382.72 93.12L382.83 93.21L382.93 93.30L383.03 93.38L383.13 93.47L383.23 93.56L383.34 93.65L383.44 93.74L383.54 93.83L383.64 93.92L383.74 94.01L383.85 94.11L383.95 94.20L384.05 94.29L384.15 94.39L384.25 94.48L384.36 94.57L384.46 94.67M390.27 100.24L390.38 100.33L390.48 100.43L390.58 100.52L390.68 100.62L390.78 100.71L390.89 100.81L390.99 100.90L391.09 101.00L391.19 101.09L391.29 101.19L391.40 101.28L391.50 101.38L391.60 101.47L391.70 101.57L391.80 101.66L391.91 101.76L392.01 101.85L392.11 101.95L392.21 102.04L392.31 102.14L392.42 102.24L392.52 102.33L392.62 102.43L392.72 102.53L392.82 102.62L392.93 102.72L393.03 102.82L393.13 102.91L393.23 103.01L393.33 103.11L393.44 103.21L393.54 103.31L393.64 103.41L393.74 103.50L393.84 103.60L393.95 103.70L394.05 103.80L394.15 103.90L394.25 104.00L394.36 104.10L394.46 104.21L394.56 104.31L394.66 104.41L394.76 104.51L394.87 104.61L394.97 104.71L395.07 104.82L395.17 104.92L395.27 105.02L395.38 105.13L395.48 105.23L395.58 105.34L395.68 105.44L395.78 105.54L395.89 105.65M401.50 111.57L401.60 111.67L401.70 111.78L401.80 111.88L401.91 111.98L402.01 112.09L402.11 112.19L402.21 112.29L402.31 112.40L402.42 112.50L402.52 112.60L402.62 112.70L402.72 112.80L402.82 112.91L402.93 113.01L403.03 113.11L403.13 113.21L403.23 113.31L403.33 113.40L403.44 113.50L403.54 113.60L403.64 113.70L403.74 113.80L403.84 113.89L403.95 113.99L404.05 114.09L404.15 114.18L404.25 114.28L404.35 114.37L404.46 114.47L404.56 114.56L404.66 114.66L404.76 114.75L404.86 114.85L404.97 114.94L405.07 115.03L405.17 115.12L405.27 115.22L405.37 115.31L405.48 115.40L405.58 115.49L405.68 115.58L405.78 115.67L405.88 115.76L405.99 115.85L406.09 115.94L406.19 116.03L406.29 116.12L406.40 116.20L406.50 116.29L406.60 116.38L406.70 116.47L406.80 116.56L406.91 116.64L407.01 116.73L407.11 116.82L407.21 116.90M413.44 121.84L413.54 121.91L413.64 121.99L413.74 122.07L413.84 122.14L413.95 122.22L414.05 122.29L414.15 122.37L414.25 122.44L414.35 122.52L414.46 122.59L414.56 122.67L414.66 122.74L414.76 122.82L414.86 122.89L414.97 122.96L415.07 123.04L415.17 123.11L415.27 123.19L415.37 123.26L415.48 123.33L415.58 123.41L415.68 123.48L415.78 123.55L415.88 123.62L415.99 123.70L416.09 123.77L416.19 123.84L416.29 123.91L416.39 123.98L416.50 124.05L416.60 124.13L416.70 124.20L416.80 124.27L416.90 124.34L417.01 124.41L417.11 124.48L417.21 124.55L417.31 124.62L417.41 124.69L417.52 124.76L417.62 124.83L417.72 124.90L417.82 124.97L417.92 125.04L418.03 125.11L418.13 125.18L418.23 125.24L418.33 125.31L418.43 125.38L418.54 125.45L418.64 125.52L418.74 125.58L418.84 125.65L418.95 125.72L419.05 125.79L419.15 125.85L419.25 125.92L419.35 125.99L419.46 126.05L419.56 126.12L419.66 126.18M426.39 130.12L426.50 130.18L426.60 130.23L426.70 130.28L426.80 130.34L426.90 130.39L427.01 130.44L427.11 130.50L427.21 130.55L427.31 130.60L427.41 130.66L427.52 130.71L427.62 130.76L427.72 130.81L427.82 130.86L427.92 130.92L428.03 130.97L428.13 131.02L428.23 131.07L428.33 131.12L428.43 131.18L428.54 131.23L428.64 131.28L428.74 131.33L428.84 131.38L428.94 131.43L429.05 131.48L429.15 131.53L429.25 131.58L429.35 131.63L429.45 131.68L429.56 131.73L429.66 131.78L429.76 131.83L429.86 131.88L429.96 131.93L430.07 131.98L430.17 132.03L430.27 132.08L430.37 132.13L430.47 132.18L430.58 132.23L430.68 132.28L430.78 132.33L430.88 132.38L430.99 132.43L431.09 132.48L431.19 132.53L431.29 132.57L431.39 132.62L431.50 132.67L431.60 132.72L431.70 132.77L431.80 132.82L431.90 132.86L432.01 132.91L432.11 132.96L432.21 133.01L432.31 133.05L432.41 133.10L432.52 133.15L432.62 133.20L432.72 133.24L432.82 133.29L432.92 133.34L433.03 133.38L433.13 133.43M440.17 136.36L440.27 136.40L440.37 136.44L440.47 136.48L440.58 136.51L440.68 136.55L440.78 136.59L440.88 136.63L440.98 136.66L441.09 136.70L441.19 136.74L441.29 136.77L441.39 136.81L441.49 136.85L441.60 136.88L441.70 136.92L441.80 136.95L441.90 136.99L442.00 137.02L442.11 137.06L442.21 137.10L442.31 137.13L442.41 137.17L442.51 137.20L442.62 137.24L442.72 137.27L442.82 137.30L442.92 137.34L443.03 137.37L443.13 137.41L443.23 137.44L443.33 137.48L443.43 137.51L443.54 137.54L443.64 137.58L443.74 137.61L443.84 137.64L443.94 137.67L444.05 137.71L444.15 137.74L444.25 137.77L444.35 137.81L444.45 137.84L444.56 137.87L444.66 137.90L444.76 137.93L444.86 137.96L444.96 138.00L445.07 138.03L445.17 138.06L445.27 138.09L445.37 138.12L445.47 138.15L445.58 138.18L445.68 138.21L445.78 138.24L445.88 138.27L445.98 138.30L446.09 138.33L446.19 138.36L446.29 138.39L446.39 138.42L446.49 138.45L446.60 138.48L446.70 138.51L446.80 138.54L446.90 138.57L447.00 138.60L447.11 138.63M454.45 140.45L454.55 140.48L454.66 140.50L454.76 140.52L454.86 140.54L454.96 140.57L455.07 140.59L455.17 140.61L455.27 140.63L455.37 140.65L455.47 140.68L455.58 140.70L455.68 140.72L455.78 140.74L455.88 140.76L455.98 140.78L456.09 140.81L456.19 140.83L456.29 140.85L456.39 140.87L456.49 140.89L456.60 140.91L456.70 140.93L456.80 140.96L456.90 140.98L457.00 141.00L457.11 141.02L457.21 141.04L457.31 141.06L457.41 141.08L457.51 141.10L457.62 141.12L457.72 141.14L457.82 141.17L457.92 141.19L458.02 141.21L458.13 141.23L458.23 141.25L458.33 141.27L458.43 141.29L458.53 141.31L458.64 141.33L458.74 141.35L458.84 141.37L458.94 141.39L459.04 141.41L459.15 141.43L459.25 141.45L459.35 141.47L459.45 141.49L459.55 141.51L459.66 141.53L459.76 141.55L459.86 141.57L459.96 141.59L460.06 141.61L460.17 141.63L460.27 141.65L460.37 141.67L460.47 141.69L460.57 141.71L460.68 141.73L460.78 141.75L460.88 141.77L460.98 141.79L461.09 141.80L461.19 141.82L461.29 141.84L461.39 141.86L461.49 141.88L461.60 141.90M468.94 143.22L469.04 143.23L469.15 143.25L469.25 143.27L469.35 143.29L469.45 143.30L469.55 143.32L469.66 143.34L469.76 143.36L469.86 143.37L469.96 143.39L470.06 143.41L470.17 143.42L470.27 143.44L470.37 143.46L470.47 143.48L470.57 143.49L470.68 143.51L470.78 143.53L470.88 143.54L470.98 143.56L471.08 143.58L471.19 143.60L471.29 143.61L471.39 143.63L471.49 143.65L471.59 143.66L471.70 143.68L471.80 143.70L471.90 143.71L472.00 143.73L472.10 143.75L472.21 143.76L472.31 143.78L472.41 143.80L472.51 143.81L472.61 143.83L472.72 143.85L472.82 143.86L472.92 143.88L473.02 143.90L473.13 143.91L473.23 143.93L473.33 143.95L473.43 143.96L473.53 143.98L473.64 144.00L473.74 144.01L473.84 144.03L473.94 144.04L474.04 144.06L474.15 144.08L474.25 144.09L474.35 144.11L474.45 144.12L474.55 144.14L474.66 144.16L474.76 144.17L474.86 144.19L474.96 144.20L475.06 144.22L475.17 144.24L475.27 144.25L475.37 144.27L475.47 144.28L475.57 144.30L475.68 144.32L475.78 144.33L475.88 144.35L475.98 144.36L476.08 144.38M483.53 145.43L483.63 145.45L483.74 145.46L483.84 145.47L483.94 145.49L484.04 145.50L484.14 145.51L484.25 145.53L484.35 145.54L484.45 145.55L484.55 145.57L484.65 145.58L484.76 145.59L484.86 145.60L484.96 145.62L485.06 145.63L485.17 145.64L485.27 145.66L485.37 145.67L485.47 145.68L485.57 145.69L485.68 145.71L485.78 145.72L485.88 145.73L485.98 145.74L486.08 145.76L486.19 145.77L486.29 145.78L486.39 145.79L486.49 145.81L486.59 145.82"/>
<path class="c black" d="M333.65 115.27L334.61 113.40L335.57 111.51L336.53 109.62L337.49 107.71L338.45 105.79L339.42 103.86L340.38 101.92L341.34 99.96L342.30 97.99L343.26 96.00L344.23 94.01L345.19 92.00L346.15 89.98L347.11 87.96L348.07 85.93L349.04 83.89L350.00 81.84L350.96 79.78L351.92 77.70L352.88 75.59L353.85 73.45L354.81 71.27L355.77 69.06L356.73 66.84L357.69 64.65L358.66 62.54L359.62 60.56L360.58 58.75L361.54 57.12L362.50 55.67L363.47 54.39L364.43 53.27L365.39 52.29L366.35 51.44L367.31 50.70L368.27 50.06L369.24 49.53L370.20 49.11L371.16 48.81L372.12 48.66L373.08 48.66L374.05 48.81L375.01 49.10L375.97 49.50L376.93 50.01L377.89 50.58L378.86 51.21L379.82 51.90L380.78 52.64L381.74 53.44L382.70 54.31L383.67 55.26L384.63 56.30L385.59 57.44L386.55 58.69L387.51 60.06L388.48 61.54L389.44 63.12L390.40 64.77L391.36 66.47L392.32 68.18L393.29 69.88L394.25 71.57L395.21 73.22L396.17 74.85L397.13 76.46L398.09 78.06L399.06 79.63L400.02 81.20L400.98 82.74L401.94 84.26L402.90 85.76L403.87 87.23L404.83 88.68L405.79 90.11L406.75 91.52L407.71 92.90L408.68 94.27L409.64 95.60L410.60 96.91L411.56 98.18L412.52 99.40L413.49 100.58L414.45 101.70L415.41 102.76L416.37 103.78L417.33 104.77L418.30 105.74L419.26 106.70L420.22 107.65L421.18 108.60L422.14 109.54L423.11 110.46L424.07 111.37L425.03 112.26L425.99 113.12L426.95 113.94L427.92 114.73L428.88 115.50L429.84 116.24L430.80 116.97L431.76 117.68L432.72 118.38L433.69 119.06L434.65 119.74L435.61 120.40L436.57 121.06L437.53 121.71L438.50 122.36L439.46 123.00L440.42 123.63L441.38 124.25L442.34 124.86L443.31 125.45L444.27 126.02L445.23 126.57L446.19 127.10L447.15 127.60L448.12 128.08L449.08 128.54L450.04 128.99L451.00 129.43L451.96 129.86L452.93 130.28L453.89 130.69L454.85 131.09L455.81 131.48L456.77 131.86L457.74 132.23L458.70 132.60L459.66 132.96L460.62 133.31L461.58 133.65L462.54 133.99L463.51 134.31L464.47 134.64L465.43 134.95L466.39 135.26L467.35 135.57L468.32 135.87L469.28 136.17L470.24 136.46L471.20 136.74L472.16 137.02L473.13 137.30L474.09 137.57L475.05 137.84L476.01 138.10L476.97 138.35L477.94 138.60L478.90 138.85L479.86 139.09L480.82 139.32L481.78 139.54L482.75 139.76L483.71 139.98L484.67 140.18L485.63 140.38L486.59 140.58"/>
<text class="tk" x="298.25" y="16.50" text-anchor="end">1.0</text>
<text class="tk" x="512.95" y="16.50">1.0</text>
<text class="tk" x="298.25" y="45.58" text-anchor="end">0.8</text>
<text class="tk" x="512.95" y="45.58">0.8</text>
<text class="tk" x="298.25" y="74.66" text-anchor="end">0.6</text>
<text class="tk" x="512.95" y="74.66">0.6</text>
<text class="tk" x="298.25" y="103.74" text-anchor="end">0.4</text>
<text class="tk" x="512.95" y="103.74">0.4</text>
<text class="tk" x="298.25" y="132.82" text-anchor="end">0.2</text>
<text class="tk" x="512.95" y="132.82">0.2</text>
<text class="tk" x="298.25" y="161.90" text-anchor="end">0.0</text>
<text class="tk" x="512.95" y="161.90">0.0</text>
<text class="tk" x="302.35" y="176.50" text-anchor="middle">-40</text>
<text class="tk" x="322.88" y="176.50" text-anchor="middle">-30</text>
<text class="tk" x="343.41" y="176.50" text-anchor="middle">-20</text>
<text class="tk" x="363.94" y="176.50" text-anchor="middle">-10</text>
<text class="tk" x="384.97" y="176.50" text-anchor="middle">0</text>
<text class="tk" x="405.50" y="176.50" text-anchor="middle">10</text>
<text class="tk" x="426.03" y="176.50" text-anchor="middle">20</text>
<text class="tk" x="446.56" y="176.50" text-anchor="middle">30</text>
<text class="tk" x="467.09" y="176.50" text-anchor="middle">40</text>
<text class="tk" x="487.62" y="176.50" text-anchor="middle">50</text>
<text class="tk" x="508.15" y="176.50" text-anchor="middle">60</text>
<text class="at" text-anchor="middle" transform="translate(283.65 87.10) rotate(-90)"><tspan class="gk">σ, σ</tspan><tspan class="sub" dy="1.8">c</tspan><tspan class="pr" dy="-2.1"> (-)</tspan></text>
<text class="at" text-anchor="middle" transform="translate(533.35 86.30) rotate(-90)">C<tspan class="sub" dy="1.8">b</tspan><tspan class="pr" dy="-2.1"> (-)</tspan></text>
<text class="at xl" text-anchor="middle" x="405.20" y="188.50">L' (-)</text>
<text class="cap" text-anchor="middle" x="406.70" y="205.80">(<tspan class="b">b</tspan>)</text>
</g>
<g class="panel">
<path class="grid" d="M30.00 217.60 V363.00M50.53 217.60 V363.00M71.06 217.60 V363.00M91.59 217.60 V363.00M112.12 217.60 V363.00M132.65 217.60 V363.00M153.18 217.60 V363.00M173.71 217.60 V363.00M194.24 217.60 V363.00M214.77 217.60 V363.00M235.30 217.60 V363.00M30.00 217.60 H235.30M30.00 232.14 H235.30M30.00 246.68 H235.30M30.00 261.22 H235.30M30.00 275.76 H235.30M30.00 290.30 H235.30M30.00 304.84 H235.30M30.00 319.38 H235.30M30.00 333.92 H235.30M30.00 348.46 H235.30M30.00 363.00 H235.30"/>
<path class="axis" d="M29.70 217.60 V369.80 M30.00 363.00 H235.30 M30.00 363.00 V369.80M50.53 363.00 V369.80M71.06 363.00 V369.80M91.59 363.00 V369.80M112.12 363.00 V369.80M132.65 363.00 V369.80M153.18 363.00 V369.80M173.71 363.00 V369.80M194.24 363.00 V369.80M214.77 363.00 V369.80M235.30 363.00 V369.80"/>
<path class="axisr" d="M235.60 217.60 V363.00"/>
<path class="c blue" d="M61.00 238.86L61.77 240.92L62.54 242.91L63.30 244.84L64.07 246.70L64.84 248.51L65.61 250.27L66.37 251.98L67.14 253.65L67.91 255.28L68.68 256.87L69.44 258.43L70.21 259.95L70.98 261.44L71.75 262.90L72.51 264.32L73.28 265.72L74.05 267.07L74.82 268.39L75.58 269.67L76.35 270.91L77.12 272.11L77.89 273.26L78.65 274.36L79.42 275.41L80.19 276.42L80.96 277.38L81.72 278.30L82.49 279.17L83.26 280.00L84.03 280.80L84.79 281.56L85.56 282.30L86.33 283.01L87.10 283.70L87.86 284.37L88.63 285.03L89.40 285.68L90.17 286.32L90.93 286.95L91.70 287.57L92.47 288.20L93.24 288.81L94.01 289.43L94.77 290.04L95.54 290.64L96.31 291.24L97.08 291.84L97.84 292.43L98.61 293.01L99.38 293.59L100.15 294.16L100.91 294.72L101.68 295.27L102.45 295.81L103.22 296.34L103.98 296.86L104.75 297.37L105.52 297.87L106.29 298.36L107.05 298.83L107.82 299.30L108.59 299.75L109.36 300.19L110.12 300.62L110.89 301.04L111.66 301.45L112.43 302.16L113.19 302.81L113.96 303.44L114.73 304.06L115.50 304.67L116.26 305.27L117.03 305.86L117.80 306.44L118.57 307.01L119.33 307.57L120.10 308.12L120.87 308.66L121.64 309.17L122.40 309.68L123.17 310.17L123.94 310.65L124.71 311.13L125.47 311.59L126.24 312.04L127.01 312.48L127.78 312.92L128.55 313.34L129.31 313.76L130.08 314.17L130.85 314.57L131.62 314.96L132.38 315.35L133.15 315.72L133.92 316.09L134.69 316.45L135.45 316.80L136.22 317.14L136.99 317.48L137.76 317.81L138.52 318.14L139.29 318.47L140.06 318.79L140.83 319.10L141.59 319.41L142.36 319.72L143.13 320.01L143.90 320.31L144.66 320.59L145.43 320.88L146.20 321.15L146.97 321.43L147.73 321.70L148.50 321.96L149.27 322.22L150.04 322.48L150.80 322.73L151.57 322.98L152.34 323.23L153.11 323.48L153.87 323.72L154.64 323.96L155.41 324.20L156.18 324.43L156.94 324.66L157.71 324.89L158.48 325.12L159.25 325.34L160.01 325.57L160.78 325.78L161.55 326.00L162.32 326.21L163.08 326.42L163.85 326.62L164.62 326.82L165.39 327.02L166.16 327.21L166.92 327.40L167.69 327.59L168.46 327.77L169.23 327.95L169.99 328.13L170.76 328.31L171.53 328.48L172.30 328.65L173.06 328.81L173.83 328.96L174.60 329.11L175.37 329.25L176.13 329.39L176.90 329.53L177.67 329.67L178.44 329.80L179.20 329.93L179.97 330.05L180.74 330.18L181.51 330.30L182.27 330.42L183.04 330.54L183.81 330.65L184.58 330.76L185.34 330.88L186.11 330.98L186.88 331.09L187.65 331.20L188.41 331.30L189.18 331.40L189.95 331.50L190.72 331.59L191.48 331.69L192.25 331.78L193.02 331.87L193.79 331.96L194.55 332.04L195.32 332.12L196.09 332.20L196.86 332.28L197.62 332.36L198.39 332.43L199.16 332.50L199.93 332.57L200.70 332.63L201.46 332.70L202.23 332.76L203.00 332.81L203.77 332.87L204.53 332.92L205.30 332.97L206.07 333.02L206.84 333.07L207.60 333.11L208.37 333.15L209.14 333.19L209.91 333.23L210.67 333.27L211.44 333.30L212.21 333.33L212.98 333.36L213.74 333.39"/>
<path class="c red" d="M61.00 290.01L61.32 289.91L61.64 289.80L61.96 289.70L62.28 289.60L62.59 289.49L62.91 289.39L63.23 289.29L63.55 289.18L63.87 289.08L64.19 288.98L64.51 288.88L64.83 288.78L65.15 288.68L65.47 288.58L65.78 288.49L66.10 288.39L66.42 288.29L66.74 288.20L67.06 288.11L67.38 288.01L67.70 287.92L68.02 287.83L68.34 287.74L68.65 287.65L68.97 287.57L69.29 287.48L69.61 287.40L69.93 287.31L70.25 287.23L70.57 287.15L70.89 287.07L71.21 286.99L71.52 286.91L71.84 286.83L72.16 286.76L72.48 286.68L72.80 286.61L73.12 286.53L73.44 286.46L73.76 286.38L74.08 286.31L74.40 286.24L74.71 286.17L75.03 286.10L75.35 286.03L75.67 285.96L75.99 285.89L76.31 285.82L76.63 285.75L76.95 285.69L77.27 285.62L77.58 285.55L77.90 285.49L78.22 285.42L78.54 285.36L78.86 285.29L79.18 285.23L79.50 285.16L79.82 285.10L80.14 285.04L80.45 284.97L80.77 284.91L81.09 284.85L81.41 284.79L81.73 284.73L82.05 284.67L82.37 284.61L82.69 284.55L83.01 284.49L83.33 284.43L83.64 284.37L83.96 284.32L84.28 284.26L84.60 284.20L84.92 284.14L85.24 284.09L85.56 284.03L85.88 283.98L86.20 283.92L86.51 283.87L86.83 283.81L87.15 283.76L87.47 283.70L87.79 283.65L88.11 283.60L88.43 283.54L88.75 283.49L89.07 283.44L89.38 283.39L89.70 283.34L90.02 283.28L90.34 283.23L90.66 283.18L90.98 283.13L91.30 283.08L91.62 283.03L91.94 282.98L92.25 282.93L92.57 282.88L92.89 282.83L93.21 282.79L93.53 282.74L93.85 282.69L94.17 282.64L94.49 282.59L94.81 282.55L95.13 282.50L95.44 282.45L95.76 282.41L96.08 282.36L96.40 282.31L96.72 282.27L97.04 282.22L97.36 282.17L97.68 282.13L98.00 282.08L98.31 282.04L98.63 281.99L98.95 281.95L99.27 281.91L99.59 281.86L99.91 281.82L100.23 281.78L100.55 281.73L100.87 281.69L101.18 281.65L101.50 281.61L101.82 281.56L102.14 281.52L102.46 281.48L102.78 281.44L103.10 281.40L103.42 281.36L103.74 281.32L104.06 281.28L104.37 281.24L104.69 281.20L105.01 281.16L105.33 281.12L105.65 281.08L105.97 281.05L106.29 281.01L106.61 280.97L106.93 280.93L107.24 280.90L107.56 280.86L107.88 280.83L108.20 280.79L108.52 280.75L108.84 280.72L109.16 280.68L109.48 280.65L109.80 280.62L110.11 280.58L110.43 280.55L110.75 280.52L111.07 280.48L111.39 280.45L111.71 280.42"/>
<rect class="band" x="80.09" y="218.10" width="41.06" height="144.90" fill="rgb(211,211,211)"/>
<rect class="band" x="87.28" y="218.10" width="24.84" height="144.90" fill="rgb(248,215,211)"/>
<path class="bg gray" d="M80.09 232.14 H87.28M80.09 246.68 H87.28M80.09 261.22 H87.28M80.09 275.76 H87.28M80.09 290.30 H87.28M80.09 304.84 H87.28M80.09 319.38 H87.28M80.09 333.92 H87.28M80.09 348.46 H87.28M80.09 363.00 H87.28M112.12 218.10 V363.00M112.12 232.14 H121.15M112.12 246.68 H121.15M112.12 261.22 H121.15M112.12 275.76 H121.15M112.12 290.30 H121.15M112.12 304.84 H121.15M112.12 319.38 H121.15M112.12 333.92 H121.15M112.12 348.46 H121.15M112.12 363.00 H121.15"/>
<path class="bg brown" d="M91.59 218.10 V363.00M112.12 218.10 V363.00M87.28 232.14 H112.12M87.28 246.68 H112.12M87.28 261.22 H112.12M87.28 275.76 H112.12M87.28 290.30 H112.12M87.28 304.84 H112.12M87.28 319.38 H112.12M87.28 333.92 H112.12M87.28 348.46 H112.12M87.28 363.00 H112.12"/>
<path class="c cb" d="M112.12 362.22L112.76 361.38L113.40 360.55L114.04 359.73L114.68 358.91L115.32 358.09L115.95 357.28L116.59 356.47L117.23 355.67L117.87 354.87L118.51 354.09L119.15 353.31L119.79 352.55L120.43 351.80L121.07 351.06L121.71 350.34L122.35 349.64L122.99 348.95L123.62 348.28L124.26 347.62L124.90 346.98L125.54 346.35L126.18 345.74L126.82 345.14L127.46 344.55L128.10 343.98L128.74 343.41L129.38 342.86L130.02 342.33L130.66 341.81L131.29 341.30L131.93 340.80L132.57 340.32L133.21 339.85L133.85 339.39L134.49 338.94L135.13 338.50L135.77 338.08L136.41 337.66L137.05 337.25L137.69 336.84L138.32 336.45L138.96 336.05L139.60 335.67L140.24 335.29L140.88 334.91L141.52 334.54L142.16 334.18L142.80 333.82L143.44 333.47L144.08 333.13L144.72 332.79L145.36 332.46L145.99 332.14L146.63 331.82L147.27 331.51L147.91 331.21L148.55 330.91L149.19 330.62L149.83 330.33L150.47 330.05L151.11 329.77L151.75 329.50L152.39 329.24L153.03 328.98L153.66 328.72L154.30 328.47L154.94 328.23L155.58 327.99L156.22 327.76L156.86 327.53L157.50 327.30L158.14 327.08L158.78 326.87L159.42 326.66L160.06 326.45L160.69 326.25L161.33 326.05L161.97 325.85L162.61 325.66L163.25 325.48L163.89 325.30L164.53 325.12L165.17 324.94L165.81 324.77L166.45 324.59L167.09 324.42L167.73 324.25L168.36 324.08L169.00 323.91L169.64 323.73L170.28 323.56L170.92 323.39L171.56 323.22L172.20 323.06L172.84 322.90L173.48 322.74L174.12 322.59L174.76 322.44L175.40 322.30L176.03 322.16L176.67 322.02L177.31 321.88L177.95 321.75L178.59 321.62L179.23 321.49L179.87 321.36L180.51 321.24L181.15 321.11L181.79 320.99L182.43 320.87L183.06 320.75L183.70 320.63L184.34 320.52L184.98 320.41L185.62 320.29L186.26 320.18L186.90 320.08L187.54 319.97L188.18 319.86L188.82 319.76L189.46 319.66L190.10 319.56L190.73 319.46L191.37 319.37L192.01 319.27L192.65 319.18L193.29 319.09L193.93 318.99L194.57 318.91L195.21 318.82L195.85 318.73L196.49 318.65L197.13 318.56L197.76 318.48L198.40 318.39L199.04 318.31L199.68 318.23L200.32 318.15L200.96 318.07L201.60 318.00L202.24 317.92L202.88 317.84L203.52 317.77L204.16 317.70L204.80 317.63L205.43 317.56L206.07 317.49L206.71 317.42L207.35 317.35L207.99 317.29L208.63 317.22L209.27 317.16L209.91 317.10L210.55 317.04L211.19 316.99L211.83 316.93L212.47 316.87L213.10 316.82L213.74 316.77"/>
<path class="c cbt" d="M112.30 361.98 L110.32 359.22M114.63 358.97 L112.66 356.19M116.98 355.99 L115.05 353.19M119.38 353.04 L117.50 350.20M121.86 350.17 L120.09 347.26M124.47 347.41 L122.82 344.44M127.21 344.77 L125.68 341.74M130.08 342.28 L128.67 339.18M133.08 339.94 L131.81 336.79M136.21 337.79 L135.06 334.59M139.43 335.77 L138.35 332.55M142.71 333.87 L141.72 330.62M146.08 332.10 L145.18 328.82M149.51 330.47 L148.70 327.17M153.01 328.98 L152.27 325.66M156.56 327.63 L155.90 324.30M160.16 326.42 L159.57 323.07M163.80 325.32 L163.27 321.96M167.46 324.32 L166.97 320.96M171.13 323.34 L170.64 319.97M174.82 322.43 L174.40 319.05M178.54 321.63 L178.16 318.25M182.27 320.90 L181.92 317.52M186.01 320.23 L185.69 316.84M189.76 319.61 L189.47 316.23M193.52 319.05 L193.25 315.66M197.28 318.54 L197.04 315.15M201.05 318.06 L200.82 314.67M204.82 317.62 L204.62 314.23M208.60 317.23 L208.42 313.83M212.39 316.88 L212.23 313.48"/>
<path class="c dotted" d="M60.38 348.00L60.49 347.92L60.59 347.85L60.69 347.77L60.79 347.69L60.90 347.61L61.00 347.53L61.10 347.45L61.20 347.37L61.31 347.29L61.41 347.21L61.51 347.13L61.61 347.05L61.71 346.97L61.82 346.89L61.92 346.81L62.02 346.73L62.12 346.65L62.23 346.57L62.33 346.49L62.43 346.41L62.53 346.33L62.64 346.25L62.74 346.17L62.84 346.09L62.94 346.01L63.04 345.92L63.15 345.84M65.91 343.59L66.01 343.50L66.11 343.42L66.22 343.33L66.32 343.24L66.42 343.16L66.52 343.07L66.63 342.99L66.73 342.90L66.83 342.81L66.93 342.73L67.03 342.64L67.14 342.55L67.24 342.46L67.34 342.38L67.44 342.29L67.55 342.20L67.65 342.11L67.75 342.03L67.85 341.94L67.96 341.85L68.06 341.76L68.16 341.67L68.26 341.58L68.36 341.49L68.47 341.40L68.57 341.31M71.23 338.92L71.33 338.83L71.43 338.73L71.54 338.64L71.64 338.54L71.74 338.45L71.84 338.35L71.95 338.25L72.05 338.16L72.15 338.06L72.25 337.96L72.35 337.87L72.46 337.77L72.56 337.67L72.66 337.58L72.76 337.48L72.87 337.38L72.97 337.28L73.07 337.18L73.17 337.08L73.28 336.99L73.38 336.89L73.48 336.79L73.58 336.69L73.68 336.59L73.79 336.49M76.45 333.90L76.55 333.80L76.65 333.70L76.75 333.61L76.86 333.51L76.96 333.41L77.06 333.31L77.16 333.22L77.27 333.12L77.37 333.02L77.47 332.93L77.57 332.83L77.67 332.74L77.78 332.64L77.88 332.55L77.98 332.45L78.08 332.36L78.19 332.26L78.29 332.17L78.39 332.08L78.49 331.98L78.60 331.89L78.70 331.80L78.80 331.71L78.90 331.62L79.00 331.52M81.66 329.26L81.77 329.17L81.87 329.09L81.97 329.01L82.07 328.93L82.18 328.84L82.28 328.76L82.38 328.68L82.48 328.60L82.59 328.52L82.69 328.44L82.79 328.36L82.89 328.28L82.99 328.20L83.10 328.12L83.20 328.04L83.30 327.96L83.40 327.88L83.51 327.80L83.61 327.72L83.71 327.64L83.81 327.56L83.92 327.49L84.02 327.41L84.12 327.33L84.22 327.25L84.32 327.18L84.43 327.10M87.29 325.06L87.39 324.99L87.50 324.92L87.60 324.86L87.70 324.79L87.80 324.72L87.91 324.65L88.01 324.58L88.11 324.52L88.21 324.45L88.31 324.38L88.42 324.32L88.52 324.25L88.62 324.18L88.72 324.12L88.83 324.05L88.93 323.99L89.03 323.92L89.13 323.86L89.24 323.80L89.34 323.73L89.44 323.67L89.54 323.60L89.64 323.54L89.75 323.48L89.85 323.42L89.95 323.35L90.05 323.29L90.16 323.23M93.23 321.52L93.33 321.47L93.43 321.42L93.53 321.37L93.63 321.32L93.74 321.27L93.84 321.22L93.94 321.17L94.04 321.12L94.15 321.07L94.25 321.02L94.35 320.97L94.45 320.93L94.56 320.88L94.66 320.83L94.76 320.79L94.86 320.74L94.96 320.70L95.07 320.65L95.17 320.61L95.27 320.56L95.37 320.52L95.48 320.48L95.58 320.43L95.68 320.39L95.78 320.35L95.89 320.31L95.99 320.27L96.09 320.23L96.19 320.19L96.29 320.15M99.47 319.26L99.57 319.24L99.67 319.22L99.77 319.21L99.88 319.19L99.98 319.18L100.08 319.16L100.18 319.15L100.28 319.14L100.39 319.13L100.49 319.12L100.59 319.11L100.69 319.10L100.80 319.09L100.90 319.08L101.00 319.08L101.10 319.07L101.21 319.07L101.31 319.06L101.41 319.06L101.51 319.06L101.61 319.06L101.72 319.06L101.82 319.06L101.92 319.06L102.02 319.06L102.13 319.07L102.23 319.07L102.33 319.08L102.43 319.08L102.54 319.09L102.64 319.10L102.74 319.11L102.84 319.12M106.01 319.79L106.12 319.82L106.22 319.86L106.32 319.89L106.42 319.92L106.53 319.96L106.63 319.99L106.73 320.03L106.83 320.07L106.93 320.10L107.04 320.14L107.14 320.18L107.24 320.22L107.34 320.26L107.45 320.30L107.55 320.34L107.65 320.38L107.75 320.42L107.86 320.46L107.96 320.50L108.06 320.54L108.16 320.59L108.26 320.63L108.37 320.67L108.47 320.72L108.57 320.76L108.67 320.80L108.78 320.85L108.88 320.89L108.98 320.94L109.08 320.99L109.19 321.03M112.25 322.55L112.36 322.61L112.46 322.66L112.56 322.72L112.66 322.77L112.77 322.83L112.87 322.89L112.97 322.94L113.07 323.00L113.18 323.06L113.28 323.12L113.38 323.18L113.48 323.24L113.58 323.29L113.69 323.35L113.79 323.41L113.89 323.47L113.99 323.53L114.10 323.59L114.20 323.66L114.30 323.72L114.40 323.78L114.51 323.84L114.61 323.90L114.71 323.96L114.81 324.03L114.91 324.09L115.02 324.15L115.12 324.21L115.22 324.28M118.09 326.07L118.19 326.13L118.29 326.19L118.39 326.26L118.50 326.32L118.60 326.38L118.70 326.44L118.80 326.51L118.90 326.57L119.01 326.63L119.11 326.69L119.21 326.76L119.31 326.82L119.42 326.88L119.52 326.94L119.62 327.00L119.72 327.06L119.83 327.13L119.93 327.19L120.03 327.25L120.13 327.31L120.23 327.37L120.34 327.43L120.44 327.49L120.54 327.55L120.64 327.61L120.75 327.67L120.85 327.73L120.95 327.79L121.05 327.85M124.02 329.59L124.12 329.65L124.22 329.71L124.33 329.77L124.43 329.83L124.53 329.89L124.63 329.95L124.74 330.02L124.84 330.08L124.94 330.14L125.04 330.20L125.15 330.26L125.25 330.32L125.35 330.38L125.45 330.45L125.55 330.51L125.66 330.57L125.76 330.63L125.86 330.69L125.96 330.76L126.07 330.82L126.17 330.88L126.27 330.94L126.37 331.01L126.48 331.07L126.58 331.13L126.68 331.19L126.78 331.26L126.88 331.32L126.99 331.38M129.95 333.25L130.06 333.32L130.16 333.38L130.26 333.45L130.36 333.51L130.47 333.58L130.57 333.64L130.67 333.71L130.77 333.77L130.87 333.84L130.98 333.90L131.08 333.96L131.18 334.03L131.28 334.09L131.39 334.16L131.49 334.22L131.59 334.29L131.69 334.35L131.80 334.41L131.90 334.48L132.00 334.54L132.10 334.60L132.20 334.67L132.31 334.73L132.41 334.79L132.51 334.85L132.61 334.92L132.72 334.98L132.82 335.04M135.89 336.73L135.99 336.78L136.09 336.83L136.19 336.88L136.30 336.93L136.40 336.98L136.50 337.03L136.60 337.08L136.71 337.13L136.81 337.18L136.91 337.23L137.01 337.28L137.12 337.32L137.22 337.37L137.32 337.42L137.42 337.47L137.52 337.51L137.63 337.56L137.73 337.61L137.83 337.65L137.93 337.70L138.04 337.74L138.14 337.79L138.24 337.83L138.34 337.88L138.45 337.93L138.55 337.97L138.65 338.02L138.75 338.06L138.85 338.10L138.96 338.15M142.03 339.43L142.13 339.47L142.23 339.51L142.33 339.56L142.44 339.60L142.54 339.64L142.64 339.68L142.74 339.72L142.84 339.76L142.95 339.80L143.05 339.84L143.15 339.88L143.25 339.93L143.36 339.97L143.46 340.01L143.56 340.05L143.66 340.09L143.77 340.13L143.87 340.17L143.97 340.21L144.07 340.25L144.17 340.29L144.28 340.33L144.38 340.37L144.48 340.41L144.58 340.45L144.69 340.49L144.79 340.53L144.89 340.57L144.99 340.61L145.10 340.65L145.20 340.69M148.37 341.87L148.47 341.90L148.57 341.94L148.68 341.98L148.78 342.01L148.88 342.05L148.98 342.09L149.09 342.12L149.19 342.16L149.29 342.19L149.39 342.23L149.49 342.26L149.60 342.30L149.70 342.33L149.80 342.37L149.90 342.41L150.01 342.44L150.11 342.48L150.21 342.51L150.31 342.54L150.42 342.58L150.52 342.61L150.62 342.65L150.72 342.68L150.82 342.72L150.93 342.75L151.03 342.78L151.13 342.82L151.23 342.85L151.34 342.89L151.44 342.92M154.71 343.95L154.81 343.98L154.92 344.01L155.02 344.04L155.12 344.07L155.22 344.10L155.33 344.13L155.43 344.16L155.53 344.19L155.63 344.22L155.74 344.25L155.84 344.28L155.94 344.31L156.04 344.34L156.14 344.37L156.25 344.40L156.35 344.43L156.45 344.46L156.55 344.49L156.66 344.52L156.76 344.55L156.86 344.58L156.96 344.61L157.07 344.64L157.17 344.67L157.27 344.70L157.37 344.73L157.47 344.76L157.58 344.79L157.68 344.82L157.78 344.84L157.88 344.87M161.16 345.78L161.26 345.81L161.36 345.83L161.46 345.86L161.57 345.89L161.67 345.91L161.77 345.94L161.87 345.97L161.98 346.00L162.08 346.02L162.18 346.05L162.28 346.08L162.39 346.10L162.49 346.13L162.59 346.16L162.69 346.18L162.79 346.21L162.90 346.24L163.00 346.26L163.10 346.29L163.20 346.32L163.31 346.34L163.41 346.37L163.51 346.39L163.61 346.42L163.72 346.45L163.82 346.47L163.92 346.50L164.02 346.52L164.12 346.55L164.23 346.57L164.33 346.60M167.60 347.39L167.71 347.41L167.81 347.44L167.91 347.46L168.01 347.48L168.11 347.51L168.22 347.53L168.32 347.55L168.42 347.57L168.52 347.60L168.63 347.62L168.73 347.64L168.83 347.67L168.93 347.69L169.04 347.71L169.14 347.73L169.24 347.76L169.34 347.78L169.44 347.80L169.55 347.82L169.65 347.85L169.75 347.87L169.85 347.89L169.96 347.91L170.06 347.93L170.16 347.96L170.26 347.98L170.37 348.00L170.47 348.02L170.57 348.04L170.67 348.06L170.77 348.09M174.05 348.74L174.15 348.76L174.25 348.78L174.36 348.80L174.46 348.81L174.56 348.83L174.66 348.85L174.76 348.87L174.87 348.89L174.97 348.91L175.07 348.93L175.17 348.95L175.28 348.97L175.38 348.98L175.48 349.00L175.58 349.02L175.69 349.04L175.79 349.06L175.89 349.08L175.99 349.09L176.09 349.11L176.20 349.13L176.30 349.15L176.40 349.17L176.50 349.19L176.61 349.20L176.71 349.22L176.81 349.24L176.91 349.26L177.02 349.27L177.12 349.29L177.22 349.31L177.32 349.33M180.60 349.87L180.70 349.88L180.80 349.90L180.90 349.92L181.01 349.93L181.11 349.95L181.21 349.96L181.31 349.98L181.41 350.00L181.52 350.01L181.62 350.03L181.72 350.04L181.82 350.06L181.93 350.07L182.03 350.09L182.13 350.11L182.23 350.12L182.34 350.14L182.44 350.15L182.54 350.17L182.64 350.18L182.74 350.20L182.85 350.22L182.95 350.23L183.05 350.25L183.15 350.26L183.26 350.28L183.36 350.29L183.46 350.31L183.56 350.32L183.67 350.34L183.77 350.35L183.87 350.37M187.14 350.84L187.25 350.85L187.35 350.86L187.45 350.88L187.55 350.89L187.66 350.91L187.76 350.92L187.86 350.94L187.96 350.95L188.06 350.96L188.17 350.98L188.27 350.99L188.37 351.01L188.47 351.02L188.58 351.03L188.68 351.05L188.78 351.06L188.88 351.08L188.99 351.09L189.09 351.10L189.19 351.12L189.29 351.13L189.39 351.14L189.50 351.16L189.60 351.17L189.70 351.19L189.80 351.20L189.91 351.21L190.01 351.23L190.11 351.24L190.21 351.25L190.32 351.27L190.42 351.28M193.69 351.71L193.79 351.72L193.90 351.74L194.00 351.75L194.10 351.76L194.20 351.78L194.31 351.79L194.41 351.80L194.51 351.82L194.61 351.83L194.71 351.84L194.82 351.86L194.92 351.87L195.02 351.88L195.12 351.89L195.23 351.91L195.33 351.92L195.43 351.93L195.53 351.95L195.64 351.96L195.74 351.97L195.84 351.98L195.94 352.00L196.04 352.01L196.15 352.02L196.25 352.04L196.35 352.05L196.45 352.06L196.56 352.08L196.66 352.09L196.76 352.10L196.86 352.11L196.97 352.13M200.24 352.53L200.34 352.54L200.44 352.55L200.55 352.56L200.65 352.58L200.75 352.59L200.85 352.60L200.96 352.61L201.06 352.62L201.16 352.64L201.26 352.65L201.36 352.66L201.47 352.67L201.57 352.68L201.67 352.70L201.77 352.71L201.88 352.72L201.98 352.73L202.08 352.74L202.18 352.76L202.29 352.77L202.39 352.78L202.49 352.79L202.59 352.80L202.69 352.82L202.80 352.83L202.90 352.84L203.00 352.85L203.10 352.86L203.21 352.87L203.31 352.89L203.41 352.90L203.51 352.91M206.89 353.29L206.99 353.30L207.09 353.31L207.20 353.32L207.30 353.33L207.40 353.34L207.50 353.35L207.61 353.36L207.71 353.37L207.81 353.38L207.91 353.39L208.01 353.41L208.12 353.42L208.22 353.43L208.32 353.44L208.42 353.45L208.53 353.46L208.63 353.47L208.73 353.48L208.83 353.49L208.94 353.50L209.04 353.51L209.14 353.52L209.24 353.53L209.34 353.54L209.45 353.56L209.55 353.57L209.65 353.58L209.75 353.59L209.86 353.60L209.96 353.61L210.06 353.62L210.16 353.63M213.44 353.95L213.54 353.96L213.64 353.97L213.74 353.98"/>
<path class="c dashed" d="M60.80 335.55L60.90 335.46L61.00 335.36L61.10 335.27L61.20 335.18L61.31 335.08L61.41 334.99L61.51 334.89L61.61 334.80L61.71 334.70L61.82 334.60L61.92 334.51L62.02 334.41L62.12 334.31L62.22 334.21L62.33 334.11L62.43 334.01L62.53 333.91L62.63 333.81L62.73 333.70L62.84 333.60L62.94 333.50L63.04 333.39L63.14 333.29L63.24 333.18L63.35 333.07L63.45 332.96L63.55 332.86L63.65 332.75L63.75 332.64L63.86 332.53L63.96 332.41L64.06 332.30L64.16 332.19L64.26 332.07L64.37 331.96L64.47 331.84L64.57 331.73L64.67 331.61L64.77 331.49L64.88 331.37L64.98 331.25L65.08 331.13L65.18 331.01L65.28 330.89L65.39 330.76L65.49 330.64L65.59 330.52L65.69 330.39L65.79 330.26L65.90 330.14L66.00 330.01L66.10 329.88L66.20 329.75L66.30 329.62L66.41 329.49L66.51 329.35L66.61 329.22L66.71 329.09L66.81 328.95L66.92 328.81L67.02 328.68L67.12 328.54L67.22 328.40L67.33 328.26L67.43 328.12L67.53 327.98M72.22 320.96L72.32 320.81L72.43 320.66L72.53 320.51L72.63 320.35L72.73 320.20L72.83 320.05L72.94 319.90L73.04 319.75L73.14 319.60L73.24 319.45L73.35 319.30L73.45 319.15L73.55 319.00L73.65 318.85L73.75 318.71L73.86 318.56L73.96 318.41L74.06 318.26L74.16 318.11L74.26 317.97L74.37 317.82L74.47 317.67L74.57 317.52L74.67 317.37L74.77 317.23L74.88 317.08L74.98 316.93L75.08 316.78L75.18 316.63L75.28 316.49L75.39 316.34L75.49 316.19L75.59 316.04L75.69 315.89L75.79 315.74L75.90 315.59L76.00 315.44L76.10 315.29L76.20 315.14L76.30 314.98L76.41 314.83L76.51 314.68L76.61 314.53L76.71 314.37M81.41 307.17L81.51 307.02L81.61 306.87L81.71 306.72L81.81 306.57L81.92 306.41L82.02 306.26L82.12 306.11L82.22 305.96L82.32 305.81L82.43 305.66L82.53 305.52L82.63 305.37L82.73 305.22L82.83 305.07L82.94 304.92L83.04 304.77L83.14 304.63L83.24 304.48L83.34 304.33L83.45 304.19L83.55 304.04L83.65 303.89L83.75 303.75L83.85 303.60L83.96 303.46L84.06 303.31L84.16 303.17L84.26 303.02L84.36 302.87L84.47 302.73L84.57 302.59L84.67 302.44L84.77 302.30L84.87 302.15L84.98 302.01L85.08 301.86L85.18 301.72L85.28 301.58L85.39 301.44L85.49 301.29L85.59 301.15L85.69 301.01L85.79 300.87L85.90 300.72L86.00 300.58M91.41 294.27L91.51 294.18L91.61 294.10L91.71 294.01L91.81 293.93L91.92 293.84L92.02 293.76L92.12 293.68L92.22 293.60L92.32 293.52L92.43 293.44L92.53 293.36L92.63 293.29L92.73 293.21L92.83 293.14L92.94 293.06L93.04 292.99L93.14 292.92L93.24 292.85L93.34 292.78L93.45 292.72L93.55 292.65L93.65 292.58L93.75 292.52L93.85 292.46L93.96 292.39L94.06 292.33L94.16 292.27L94.26 292.22L94.36 292.16L94.47 292.10L94.57 292.04L94.67 291.99L94.77 291.94L94.87 291.88L94.98 291.83L95.08 291.78L95.18 291.73L95.28 291.68L95.38 291.64L95.49 291.59L95.59 291.55L95.69 291.50L95.79 291.46L95.89 291.42L96.00 291.38L96.10 291.34L96.20 291.30L96.30 291.26L96.40 291.22L96.51 291.19L96.61 291.15L96.71 291.12L96.81 291.08L96.91 291.05L97.02 291.02L97.12 290.99L97.22 290.96L97.32 290.94L97.43 290.91L97.53 290.88L97.63 290.86L97.73 290.84L97.83 290.82L97.94 290.79M105.18 292.25L105.28 292.31L105.38 292.36L105.49 292.42L105.59 292.48L105.69 292.54L105.79 292.61L105.89 292.67L106.00 292.73L106.10 292.80L106.20 292.86L106.30 292.93L106.40 292.99L106.51 293.06L106.61 293.13L106.71 293.20L106.81 293.27L106.91 293.34L107.02 293.41L107.12 293.48L107.22 293.55L107.32 293.62L107.42 293.70L107.53 293.77L107.63 293.85L107.73 293.92L107.83 294.00L107.93 294.08L108.04 294.16L108.14 294.24L108.24 294.31L108.34 294.40L108.44 294.48L108.55 294.56L108.65 294.64L108.75 294.72L108.85 294.81L108.95 294.89L109.06 294.97L109.16 295.06L109.26 295.15L109.36 295.23L109.47 295.32L109.57 295.41L109.67 295.50L109.77 295.59L109.87 295.68L109.98 295.77L110.08 295.86L110.18 295.95L110.28 296.04L110.38 296.13L110.49 296.23L110.59 296.32L110.69 296.42L110.79 296.51L110.89 296.61L111.00 296.70L111.10 296.80L111.20 296.90M117.02 302.68L117.12 302.78L117.22 302.88L117.32 302.97L117.42 303.07L117.53 303.17L117.63 303.27L117.73 303.37L117.83 303.47L117.93 303.56L118.04 303.66L118.14 303.76L118.24 303.86L118.34 303.96L118.44 304.06L118.55 304.15L118.65 304.25L118.75 304.35L118.85 304.45L118.95 304.55L119.06 304.65L119.16 304.75L119.26 304.85L119.36 304.94L119.46 305.04L119.57 305.14L119.67 305.24L119.77 305.34L119.87 305.44L119.97 305.54L120.08 305.64L120.18 305.74L120.28 305.84L120.38 305.95L120.48 306.05L120.59 306.15L120.69 306.25L120.79 306.35L120.89 306.46L120.99 306.56L121.10 306.66L121.20 306.76L121.30 306.87L121.40 306.97L121.51 307.08L121.61 307.18L121.71 307.28L121.81 307.39L121.91 307.50L122.02 307.60L122.12 307.71L122.22 307.81L122.32 307.92L122.42 308.03L122.53 308.13M128.14 314.23L128.24 314.34L128.34 314.45L128.44 314.56L128.55 314.67L128.65 314.77L128.75 314.88L128.85 314.99L128.95 315.10L129.06 315.20L129.16 315.31L129.26 315.42L129.36 315.52L129.46 315.63L129.57 315.73L129.67 315.84L129.77 315.94L129.87 316.05L129.97 316.15L130.08 316.26L130.18 316.36L130.28 316.46L130.38 316.56L130.48 316.67L130.59 316.77L130.69 316.87L130.79 316.97L130.89 317.07L130.99 317.17L131.10 317.27L131.20 317.37L131.30 317.47L131.40 317.56L131.50 317.66L131.61 317.76L131.71 317.86L131.81 317.95L131.91 318.05L132.01 318.15L132.12 318.24L132.22 318.34L132.32 318.43L132.42 318.53L132.52 318.62L132.63 318.71L132.73 318.81L132.83 318.90L132.93 318.99L133.03 319.08L133.14 319.18L133.24 319.27L133.34 319.36L133.44 319.45L133.55 319.54L133.65 319.63M139.87 324.76L139.97 324.84L140.08 324.92L140.18 325.00L140.28 325.07L140.38 325.15L140.48 325.23L140.59 325.31L140.69 325.39L140.79 325.46L140.89 325.54L140.99 325.62L141.10 325.70L141.20 325.77L141.30 325.85L141.40 325.93L141.50 326.00L141.61 326.08L141.71 326.16L141.81 326.23L141.91 326.31L142.01 326.38L142.12 326.46L142.22 326.54L142.32 326.61L142.42 326.69L142.52 326.76L142.63 326.84L142.73 326.91L142.83 326.98L142.93 327.06L143.03 327.13L143.14 327.21L143.24 327.28L143.34 327.35L143.44 327.43L143.54 327.50L143.65 327.57L143.75 327.65L143.85 327.72L143.95 327.79L144.05 327.86L144.16 327.94L144.26 328.01L144.36 328.08L144.46 328.15L144.56 328.22L144.67 328.29L144.77 328.36L144.87 328.43L144.97 328.51L145.07 328.58L145.18 328.65L145.28 328.72L145.38 328.79L145.48 328.86L145.58 328.93L145.69 329.00L145.79 329.06L145.89 329.13L145.99 329.20M152.73 333.31L152.83 333.37L152.93 333.42L153.03 333.48L153.14 333.53L153.24 333.59L153.34 333.65L153.44 333.70L153.54 333.76L153.65 333.81L153.75 333.86L153.85 333.92L153.95 333.97L154.05 334.03L154.16 334.08L154.26 334.14L154.36 334.19L154.46 334.24L154.56 334.30L154.67 334.35L154.77 334.40L154.87 334.46L154.97 334.51L155.07 334.56L155.18 334.61L155.28 334.67L155.38 334.72L155.48 334.77L155.58 334.82L155.69 334.88L155.79 334.93L155.89 334.98L155.99 335.03L156.09 335.08L156.20 335.14L156.30 335.19L156.40 335.24L156.50 335.29L156.60 335.34L156.71 335.39L156.81 335.44L156.91 335.49L157.01 335.54L157.11 335.60L157.22 335.65L157.32 335.70L157.42 335.75L157.52 335.80L157.62 335.85L157.73 335.90L157.83 335.95L157.93 336.00L158.03 336.05L158.14 336.10L158.24 336.15L158.34 336.20L158.44 336.24L158.54 336.29L158.65 336.34L158.75 336.39L158.85 336.44L158.95 336.49L159.05 336.54L159.16 336.59L159.26 336.63L159.36 336.68M166.40 339.73L166.50 339.77L166.60 339.81L166.71 339.85L166.81 339.89L166.91 339.93L167.01 339.97L167.11 340.00L167.22 340.04L167.32 340.08L167.42 340.12L167.52 340.16L167.62 340.20L167.73 340.24L167.83 340.27L167.93 340.31L168.03 340.35L168.13 340.39L168.24 340.42L168.34 340.46L168.44 340.50L168.54 340.53L168.64 340.57L168.75 340.61L168.85 340.64L168.95 340.68L169.05 340.72L169.15 340.75L169.26 340.79L169.36 340.82L169.46 340.86L169.56 340.90L169.66 340.93L169.77 340.97L169.87 341.00L169.97 341.04L170.07 341.07L170.18 341.11L170.28 341.14L170.38 341.17L170.48 341.21L170.58 341.24L170.69 341.28L170.79 341.31L170.89 341.34L170.99 341.38L171.09 341.41L171.20 341.44L171.30 341.48L171.40 341.51L171.50 341.54L171.60 341.57L171.71 341.61L171.81 341.64L171.91 341.67L172.01 341.70L172.11 341.74L172.22 341.77L172.32 341.80L172.42 341.83L172.52 341.86L172.62 341.89L172.73 341.92L172.83 341.95L172.93 341.99L173.03 342.02L173.13 342.05L173.24 342.08L173.34 342.11M180.68 344.01L180.79 344.03L180.89 344.06L180.99 344.08L181.09 344.10L181.19 344.12L181.30 344.15L181.40 344.17L181.50 344.19L181.60 344.22L181.70 344.24L181.81 344.26L181.91 344.28L182.01 344.31L182.11 344.33L182.22 344.35L182.32 344.37L182.42 344.40L182.52 344.42L182.62 344.44L182.73 344.46L182.83 344.48L182.93 344.51L183.03 344.53L183.13 344.55L183.24 344.57L183.34 344.59L183.44 344.62L183.54 344.64L183.64 344.66L183.75 344.68L183.85 344.70L183.95 344.72L184.05 344.74L184.15 344.77L184.26 344.79L184.36 344.81L184.46 344.83L184.56 344.85L184.66 344.87L184.77 344.89L184.87 344.91L184.97 344.93L185.07 344.96L185.17 344.98L185.28 345.00L185.38 345.02L185.48 345.04L185.58 345.06L185.68 345.08L185.79 345.10L185.89 345.12L185.99 345.14L186.09 345.16L186.19 345.18L186.30 345.20L186.40 345.22L186.50 345.24L186.60 345.26L186.70 345.28L186.81 345.30L186.91 345.32L187.01 345.34L187.11 345.36L187.21 345.38L187.32 345.40L187.42 345.42L187.52 345.44L187.62 345.46L187.72 345.48M195.17 346.84L195.28 346.86L195.38 346.88L195.48 346.89L195.58 346.91L195.68 346.93L195.79 346.95L195.89 346.97L195.99 346.98L196.09 347.00L196.19 347.02L196.30 347.04L196.40 347.05L196.50 347.07L196.60 347.09L196.70 347.11L196.81 347.12L196.91 347.14L197.01 347.16L197.11 347.18L197.21 347.19L197.32 347.21L197.42 347.23L197.52 347.25L197.62 347.26L197.72 347.28L197.83 347.30L197.93 347.31L198.03 347.33L198.13 347.35L198.23 347.37L198.34 347.38L198.44 347.40L198.54 347.42L198.64 347.43L198.74 347.45L198.85 347.47L198.95 347.48L199.05 347.50L199.15 347.52L199.25 347.54L199.36 347.55L199.46 347.57L199.56 347.59L199.66 347.60L199.76 347.62L199.87 347.64L199.97 347.65L200.07 347.67L200.17 347.69L200.28 347.70L200.38 347.72L200.48 347.74L200.58 347.75L200.68 347.77L200.79 347.78L200.89 347.80L200.99 347.82L201.09 347.83L201.19 347.85L201.30 347.87L201.40 347.88L201.50 347.90L201.60 347.92L201.70 347.93L201.81 347.95L201.91 347.96L202.01 347.98L202.11 348.00L202.21 348.01L202.32 348.03M209.76 349.11L209.87 349.13L209.97 349.14L210.07 349.15L210.17 349.17L210.27 349.18L210.38 349.19L210.48 349.21L210.58 349.22L210.68 349.23L210.78 349.25L210.89 349.26L210.99 349.27L211.09 349.29L211.19 349.30L211.29 349.31L211.40 349.33L211.50 349.34L211.60 349.35L211.70 349.36L211.80 349.38L211.91 349.39L212.01 349.40L212.11 349.42L212.21 349.43L212.32 349.44L212.42 349.45L212.52 349.47L212.62 349.48L212.72 349.49L212.83 349.51L212.93 349.52L213.03 349.53L213.13 349.54L213.23 349.56L213.34 349.57L213.44 349.58L213.54 349.59L213.64 349.61L213.74 349.62"/>
<path class="c black" d="M61.00 316.91L61.96 315.45L62.92 313.92L63.88 312.32L64.84 310.64L65.80 308.88L66.76 307.02L67.72 305.08L68.69 303.04L69.65 300.90L70.61 298.67L71.57 296.37L72.53 294.01L73.49 291.60L74.45 289.15L75.41 286.68L76.37 284.22L77.33 281.78L78.29 279.39L79.25 277.08L80.21 274.87L81.17 272.74L82.13 270.71L83.10 268.75L84.06 266.86L85.02 265.04L85.98 263.26L86.94 261.54L87.90 259.86L88.86 258.25L89.82 256.70L90.78 255.26L91.74 253.94L92.70 252.75L93.66 251.70L94.62 250.79L95.58 250.02L96.54 249.41L97.50 248.97L98.47 248.72L99.43 248.69L100.39 248.86L101.35 249.22L102.31 249.74L103.27 250.38L104.23 251.11L105.19 251.91L106.15 252.76L107.11 253.66L108.07 254.61L109.03 255.62L109.99 256.69L110.95 257.81L111.91 258.98L112.88 260.22L113.84 261.52L114.80 262.88L115.76 264.31L116.72 265.81L117.68 267.36L118.64 268.96L119.60 270.60L120.56 272.25L121.52 273.91L122.48 275.58L123.44 277.26L124.40 278.94L125.36 280.62L126.32 282.30L127.29 283.97L128.25 285.62L129.21 287.23L130.17 288.80L131.13 290.32L132.09 291.80L133.05 293.26L134.01 294.69L134.97 296.10L135.93 297.50L136.89 298.88L137.85 300.23L138.81 301.54L139.77 302.80L140.73 304.00L141.69 305.14L142.66 306.22L143.62 307.25L144.58 308.23L145.54 309.17L146.50 310.07L147.46 310.96L148.42 311.82L149.38 312.68L150.34 313.53L151.30 314.39L152.26 315.25L153.22 316.13L154.18 317.02L155.14 317.91L156.10 318.81L157.07 319.69L158.03 320.55L158.99 321.40L159.95 322.22L160.91 323.02L161.87 323.80L162.83 324.54L163.79 325.27L164.75 325.97L165.71 326.66L166.67 327.32L167.63 327.97L168.59 328.59L169.55 329.20L170.51 329.78L171.47 330.33L172.44 330.87L173.40 331.37L174.36 331.86L175.32 332.33L176.28 332.78L177.24 333.22L178.20 333.65L179.16 334.07L180.12 334.48L181.08 334.88L182.04 335.26L183.00 335.64L183.96 336.01L184.92 336.37L185.88 336.72L186.85 337.06L187.81 337.40L188.77 337.72L189.73 338.04L190.69 338.35L191.65 338.65L192.61 338.94L193.57 339.23L194.53 339.51L195.49 339.79L196.45 340.06L197.41 340.33L198.37 340.59L199.33 340.85L200.29 341.10L201.26 341.35L202.22 341.59L203.18 341.82L204.14 342.05L205.10 342.28L206.06 342.49L207.02 342.70L207.98 342.91L208.94 343.10L209.90 343.29L210.86 343.48L211.82 343.65L212.78 343.82L213.74 343.98"/>
<text class="tk" x="25.40" y="220.30" text-anchor="end">1.0</text>
<text class="tk" x="240.10" y="220.30">1.0</text>
<text class="tk" x="25.40" y="249.38" text-anchor="end">0.8</text>
<text class="tk" x="240.10" y="249.38">0.8</text>
<text class="tk" x="25.40" y="278.46" text-anchor="end">0.6</text>
<text class="tk" x="240.10" y="278.46">0.6</text>
<text class="tk" x="25.40" y="307.54" text-anchor="end">0.4</text>
<text class="tk" x="240.10" y="307.54">0.4</text>
<text class="tk" x="25.40" y="336.62" text-anchor="end">0.2</text>
<text class="tk" x="240.10" y="336.62">0.2</text>
<text class="tk" x="25.40" y="365.70" text-anchor="end">0.0</text>
<text class="tk" x="240.10" y="365.70">0.0</text>
<text class="tk" x="29.50" y="380.30" text-anchor="middle">-40</text>
<text class="tk" x="50.03" y="380.30" text-anchor="middle">-30</text>
<text class="tk" x="70.56" y="380.30" text-anchor="middle">-20</text>
<text class="tk" x="91.09" y="380.30" text-anchor="middle">-10</text>
<text class="tk" x="112.12" y="380.30" text-anchor="middle">0</text>
<text class="tk" x="132.65" y="380.30" text-anchor="middle">10</text>
<text class="tk" x="153.18" y="380.30" text-anchor="middle">20</text>
<text class="tk" x="173.71" y="380.30" text-anchor="middle">30</text>
<text class="tk" x="194.24" y="380.30" text-anchor="middle">40</text>
<text class="tk" x="214.77" y="380.30" text-anchor="middle">50</text>
<text class="tk" x="235.30" y="380.30" text-anchor="middle">60</text>
<text class="at" text-anchor="middle" transform="translate(10.80 290.90) rotate(-90)"><tspan class="gk">σ, σ</tspan><tspan class="sub" dy="1.8">c</tspan><tspan class="pr" dy="-2.1"> (-)</tspan></text>
<text class="at" text-anchor="middle" transform="translate(260.50 290.10) rotate(-90)">C<tspan class="sub" dy="1.8">b</tspan><tspan class="pr" dy="-2.1"> (-)</tspan></text>
<text class="at xl" text-anchor="middle" x="132.35" y="392.30">L' (-)</text>
<text class="cap" text-anchor="middle" x="133.85" y="409.60">(<tspan class="b">c</tspan>)</text>
</g>
<g class="panel">
<path class="grid" d="M303.00 217.60 V363.00M323.53 217.60 V363.00M344.06 217.60 V363.00M364.59 217.60 V363.00M385.12 217.60 V363.00M405.65 217.60 V363.00M426.18 217.60 V363.00M446.71 217.60 V363.00M467.24 217.60 V363.00M487.77 217.60 V363.00M508.30 217.60 V363.00M303.00 217.60 H508.30M303.00 232.14 H508.30M303.00 246.68 H508.30M303.00 261.22 H508.30M303.00 275.76 H508.30M303.00 290.30 H508.30M303.00 304.84 H508.30M303.00 319.38 H508.30M303.00 333.92 H508.30M303.00 348.46 H508.30M303.00 363.00 H508.30"/>
<path class="axis" d="M302.70 217.60 V369.80 M303.00 363.00 H508.30 M303.00 363.00 V369.80M323.53 363.00 V369.80M344.06 363.00 V369.80M364.59 363.00 V369.80M385.12 363.00 V369.80M405.65 363.00 V369.80M426.18 363.00 V369.80M446.71 363.00 V369.80M467.24 363.00 V369.80M487.77 363.00 V369.80M508.30 363.00 V369.80"/>
<path class="axisr" d="M508.60 217.60 V363.00"/>
<path class="c blue" d="M334.21 249.92L334.97 252.82L335.74 255.48L336.51 257.93L337.27 260.20L338.04 262.32L338.80 264.29L339.57 266.14L340.34 267.88L341.10 269.51L341.87 271.06L342.64 272.52L343.40 273.91L344.17 275.23L344.94 276.48L345.70 277.67L346.47 278.81L347.24 279.90L348.00 280.94L348.77 281.95L349.54 282.91L350.30 283.85L351.07 284.76L351.84 285.64L352.60 286.50L353.37 287.34L354.14 288.17L354.90 288.97L355.67 289.76L356.43 290.54L357.20 291.30L357.97 292.05L358.73 292.79L359.50 293.52L360.27 294.23L361.03 294.93L361.80 295.61L362.57 296.29L363.33 296.96L364.10 297.61L364.87 298.25L365.63 298.88L366.40 299.51L367.17 300.12L367.93 300.72L368.70 301.31L369.47 301.90L370.23 302.47L371.00 303.04L371.77 303.60L372.53 304.14L373.30 304.68L374.06 305.21L374.83 305.74L375.60 306.25L376.36 306.75L377.13 307.25L377.90 307.74L378.66 308.22L379.43 308.69L380.20 309.16L380.96 309.61L381.73 310.06L382.50 310.50L383.26 310.93L384.03 311.35L384.80 311.77L385.56 312.30L386.33 312.79L387.10 313.27L387.86 313.74L388.63 314.21L389.40 314.67L390.16 315.12L390.93 315.57L391.69 316.01L392.46 316.44L393.23 316.86L393.99 317.28L394.76 317.69L395.53 318.09L396.29 318.48L397.06 318.86L397.83 319.24L398.59 319.61L399.36 319.97L400.13 320.33L400.89 320.68L401.66 321.02L402.43 321.36L403.19 321.69L403.96 322.01L404.73 322.33L405.49 322.63L406.26 322.94L407.03 323.23L407.79 323.52L408.56 323.80L409.32 324.07L410.09 324.34L410.86 324.61L411.62 324.87L412.39 325.12L413.16 325.37L413.92 325.61L414.69 325.85L415.46 326.09L416.22 326.32L416.99 326.55L417.76 326.77L418.52 326.99L419.29 327.20L420.06 327.41L420.82 327.62L421.59 327.83L422.36 328.03L423.12 328.23L423.89 328.43L424.66 328.63L425.42 328.83L426.19 329.02L426.95 329.21L427.72 329.40L428.49 329.59L429.25 329.77L430.02 329.96L430.79 330.14L431.55 330.32L432.32 330.50L433.09 330.67L433.85 330.85L434.62 331.02L435.39 331.19L436.15 331.35L436.92 331.52L437.69 331.68L438.45 331.84L439.22 331.99L439.99 332.14L440.75 332.29L441.52 332.44L442.29 332.59L443.05 332.73L443.82 332.87L444.58 333.01L445.35 333.14L446.12 333.27L446.88 333.40L447.65 333.52L448.42 333.64L449.18 333.76L449.95 333.88L450.72 333.99L451.48 334.10L452.25 334.21L453.02 334.31L453.78 334.41L454.55 334.52L455.32 334.61L456.08 334.71L456.85 334.81L457.62 334.90L458.38 334.99L459.15 335.08L459.92 335.17L460.68 335.26L461.45 335.35L462.21 335.43L462.98 335.52L463.75 335.60L464.51 335.68L465.28 335.76L466.05 335.84L466.81 335.92L467.58 336.00L468.35 336.07L469.11 336.15L469.88 336.22L470.65 336.30L471.41 336.37L472.18 336.44L472.95 336.51L473.71 336.58L474.48 336.65L475.25 336.72L476.01 336.78L476.78 336.85L477.55 336.91L478.31 336.97L479.08 337.04L479.84 337.10L480.61 337.16L481.38 337.22L482.14 337.27L482.91 337.33L483.68 337.39L484.44 337.44L485.21 337.49L485.98 337.55L486.74 337.60"/>
<path class="c red" d="M333.59 287.41L333.91 287.28L334.24 287.16L334.56 287.03L334.89 286.91L335.21 286.78L335.54 286.66L335.86 286.54L336.19 286.42L336.51 286.30L336.84 286.19L337.16 286.07L337.49 285.95L337.81 285.84L338.14 285.73L338.46 285.62L338.79 285.51L339.11 285.40L339.43 285.30L339.76 285.19L340.08 285.09L340.41 284.98L340.73 284.88L341.06 284.79L341.38 284.69L341.71 284.59L342.03 284.50L342.36 284.40L342.68 284.31L343.01 284.22L343.33 284.13L343.66 284.05L343.98 283.96L344.31 283.88L344.63 283.80L344.96 283.72L345.28 283.64L345.60 283.56L345.93 283.48L346.25 283.40L346.58 283.33L346.90 283.26L347.23 283.18L347.55 283.11L347.88 283.04L348.20 282.97L348.53 282.90L348.85 282.83L349.18 282.76L349.50 282.69L349.83 282.63L350.15 282.56L350.48 282.49L350.80 282.42L351.13 282.35L351.45 282.29L351.77 282.22L352.10 282.15L352.42 282.08L352.75 282.02L353.07 281.95L353.40 281.88L353.72 281.81L354.05 281.74L354.37 281.68L354.70 281.61L355.02 281.54L355.35 281.47L355.67 281.41L356.00 281.34L356.32 281.27L356.65 281.21L356.97 281.14L357.30 281.07L357.62 281.01L357.94 280.94L358.27 280.88L358.59 280.81L358.92 280.75L359.24 280.68L359.57 280.62L359.89 280.56L360.22 280.49L360.54 280.43L360.87 280.37L361.19 280.31L361.52 280.25L361.84 280.19L362.17 280.13L362.49 280.07L362.82 280.01L363.14 279.95L363.47 279.90L363.79 279.84L364.11 279.78L364.44 279.73L364.76 279.67L365.09 279.62L365.41 279.57L365.74 279.51L366.06 279.46L366.39 279.41L366.71 279.36L367.04 279.31L367.36 279.26L367.69 279.21L368.01 279.16L368.34 279.12L368.66 279.07L368.99 279.02L369.31 278.97L369.64 278.93L369.96 278.88L370.28 278.83L370.61 278.79L370.93 278.74L371.26 278.69L371.58 278.65L371.91 278.60L372.23 278.56L372.56 278.51L372.88 278.47L373.21 278.42L373.53 278.37L373.86 278.33L374.18 278.28L374.51 278.24L374.83 278.19L375.16 278.14L375.48 278.10L375.81 278.05L376.13 278.00L376.45 277.96L376.78 277.91L377.10 277.86L377.43 277.82L377.75 277.77L378.08 277.72L378.40 277.68L378.73 277.63L379.05 277.59L379.38 277.54L379.70 277.49L380.03 277.45L380.35 277.40L380.68 277.35L381.00 277.31L381.33 277.26L381.65 277.21L381.98 277.17L382.30 277.12L382.62 277.07L382.95 277.03L383.27 276.98L383.60 276.94L383.92 276.89L384.25 276.84L384.57 276.80L384.90 276.75L385.22 276.71"/>
<rect class="band" x="349.19" y="218.10" width="45.58" height="144.90" fill="rgb(211,211,211)"/>
<rect class="band" x="349.19" y="218.10" width="35.93" height="144.90" fill="rgb(248,215,211)"/>
<path class="bg gray" d="M385.12 218.10 V363.00M385.12 232.14 H394.77M385.12 246.68 H394.77M385.12 261.22 H394.77M385.12 275.76 H394.77M385.12 290.30 H394.77M385.12 304.84 H394.77M385.12 319.38 H394.77M385.12 333.92 H394.77M385.12 348.46 H394.77M385.12 363.00 H394.77"/>
<path class="bg brown" d="M364.59 218.10 V363.00M385.12 218.10 V363.00M349.19 232.14 H385.12M349.19 246.68 H385.12M349.19 261.22 H385.12M349.19 275.76 H385.12M349.19 290.30 H385.12M349.19 304.84 H385.12M349.19 319.38 H385.12M349.19 333.92 H385.12M349.19 348.46 H385.12M349.19 363.00 H385.12"/>
<path class="c cb" d="M385.12 362.22L385.76 361.38L386.40 360.55L387.04 359.73L387.68 358.91L388.32 358.09L388.95 357.28L389.59 356.47L390.23 355.67L390.87 354.87L391.51 354.09L392.15 353.31L392.79 352.55L393.43 351.80L394.07 351.06L394.71 350.34L395.35 349.64L395.99 348.95L396.62 348.28L397.26 347.62L397.90 346.98L398.54 346.35L399.18 345.74L399.82 345.14L400.46 344.55L401.10 343.98L401.74 343.41L402.38 342.86L403.02 342.33L403.66 341.81L404.29 341.30L404.93 340.80L405.57 340.32L406.21 339.85L406.85 339.39L407.49 338.94L408.13 338.50L408.77 338.08L409.41 337.66L410.05 337.25L410.69 336.84L411.32 336.45L411.96 336.05L412.60 335.67L413.24 335.29L413.88 334.91L414.52 334.54L415.16 334.18L415.80 333.82L416.44 333.47L417.08 333.13L417.72 332.79L418.36 332.46L418.99 332.14L419.63 331.82L420.27 331.51L420.91 331.21L421.55 330.91L422.19 330.62L422.83 330.33L423.47 330.05L424.11 329.77L424.75 329.50L425.39 329.24L426.03 328.98L426.66 328.72L427.30 328.47L427.94 328.23L428.58 327.99L429.22 327.76L429.86 327.53L430.50 327.30L431.14 327.08L431.78 326.87L432.42 326.66L433.06 326.45L433.69 326.25L434.33 326.05L434.97 325.85L435.61 325.66L436.25 325.48L436.89 325.30L437.53 325.12L438.17 324.94L438.81 324.77L439.45 324.59L440.09 324.42L440.73 324.25L441.36 324.08L442.00 323.91L442.64 323.73L443.28 323.56L443.92 323.39L444.56 323.22L445.20 323.06L445.84 322.90L446.48 322.74L447.12 322.59L447.76 322.44L448.40 322.30L449.03 322.16L449.67 322.02L450.31 321.88L450.95 321.75L451.59 321.62L452.23 321.49L452.87 321.36L453.51 321.24L454.15 321.11L454.79 320.99L455.43 320.87L456.06 320.75L456.70 320.63L457.34 320.52L457.98 320.41L458.62 320.29L459.26 320.18L459.90 320.08L460.54 319.97L461.18 319.86L461.82 319.76L462.46 319.66L463.10 319.56L463.73 319.46L464.37 319.37L465.01 319.27L465.65 319.18L466.29 319.09L466.93 318.99L467.57 318.91L468.21 318.82L468.85 318.73L469.49 318.65L470.13 318.56L470.76 318.48L471.40 318.39L472.04 318.31L472.68 318.23L473.32 318.15L473.96 318.07L474.60 318.00L475.24 317.92L475.88 317.84L476.52 317.77L477.16 317.70L477.80 317.63L478.43 317.56L479.07 317.49L479.71 317.42L480.35 317.35L480.99 317.29L481.63 317.22L482.27 317.16L482.91 317.10L483.55 317.04L484.19 316.99L484.83 316.93L485.47 316.87L486.10 316.82L486.74 316.77"/>
<path class="c cbt" d="M385.30 361.98 L383.32 359.22M387.63 358.97 L385.66 356.19M389.98 355.99 L388.05 353.19M392.38 353.04 L390.50 350.20M394.86 350.17 L393.09 347.26M397.47 347.41 L395.82 344.44M400.21 344.77 L398.68 341.74M403.08 342.28 L401.67 339.18M406.08 339.94 L404.81 336.79M409.21 337.79 L408.06 334.59M412.43 335.77 L411.35 332.55M415.71 333.87 L414.72 330.62M419.08 332.10 L418.18 328.82M422.51 330.47 L421.70 327.17M426.01 328.98 L425.27 325.66M429.56 327.63 L428.90 324.30M433.16 326.42 L432.57 323.07M436.80 325.32 L436.27 321.96M440.46 324.32 L439.97 320.96M444.13 323.34 L443.64 319.97M447.82 322.43 L447.40 319.05M451.54 321.63 L451.16 318.25M455.27 320.90 L454.92 317.52M459.01 320.23 L458.69 316.84M462.76 319.61 L462.47 316.23M466.52 319.05 L466.25 315.66M470.28 318.54 L470.04 315.15M474.05 318.06 L473.82 314.67M477.82 317.62 L477.62 314.23M481.60 317.23 L481.42 313.83M485.39 316.88 L485.23 313.48"/>
<path class="c dotted" d="M333.38 348.00L333.49 347.92L333.59 347.84L333.69 347.76L333.79 347.68L333.90 347.60L334.00 347.52L334.10 347.44L334.20 347.36L334.31 347.28L334.41 347.20L334.51 347.12L334.61 347.04L334.71 346.96L334.82 346.88L334.92 346.79L335.02 346.71L335.12 346.63L335.23 346.55L335.33 346.47L335.43 346.39L335.53 346.30L335.64 346.22L335.74 346.14L335.84 346.06L335.94 345.97L336.04 345.89L336.15 345.81M338.91 343.51L339.01 343.42L339.11 343.34L339.22 343.25L339.32 343.16L339.42 343.07L339.52 342.98L339.63 342.90L339.73 342.81L339.83 342.72L339.93 342.63L340.03 342.54L340.14 342.45L340.24 342.36L340.34 342.27L340.44 342.18L340.55 342.09L340.65 342.00L340.75 341.91L340.85 341.82L340.96 341.73L341.06 341.64L341.16 341.55L341.26 341.46L341.36 341.37L341.47 341.28L341.57 341.19M344.23 338.73L344.33 338.63L344.43 338.53L344.54 338.44L344.64 338.34L344.74 338.24L344.84 338.14L344.95 338.04L345.05 337.94L345.15 337.84L345.25 337.74L345.35 337.64L345.46 337.54L345.56 337.44L345.66 337.34L345.76 337.24L345.87 337.14L345.97 337.04L346.07 336.94L346.17 336.84L346.28 336.73L346.38 336.63L346.48 336.53L346.58 336.43L346.68 336.32M349.24 333.74L349.34 333.64L349.45 333.54L349.55 333.44L349.65 333.34L349.75 333.24L349.86 333.13L349.96 333.03L350.06 332.93L350.16 332.83L350.27 332.73L350.37 332.63L350.47 332.53L350.57 332.43L350.67 332.33L350.78 332.23L350.88 332.14L350.98 332.04L351.08 331.94L351.19 331.84L351.29 331.74L351.39 331.65L351.49 331.55L351.60 331.45L351.70 331.36L351.80 331.26M354.46 328.88L354.56 328.80L354.66 328.71L354.77 328.62L354.87 328.53L354.97 328.45L355.07 328.36L355.18 328.28L355.28 328.19L355.38 328.10L355.48 328.02L355.59 327.93L355.69 327.85L355.79 327.76L355.89 327.68L355.99 327.60L356.10 327.51L356.20 327.43L356.30 327.35L356.40 327.26L356.51 327.18L356.61 327.10L356.71 327.02L356.81 326.93L356.92 326.85L357.02 326.77L357.12 326.69L357.22 326.61M359.98 324.53L360.09 324.45L360.19 324.38L360.29 324.31L360.39 324.23L360.50 324.16L360.60 324.09L360.70 324.02L360.80 323.95L360.91 323.87L361.01 323.80L361.11 323.73L361.21 323.66L361.31 323.59L361.42 323.52L361.52 323.45L361.62 323.38L361.72 323.31L361.83 323.24L361.93 323.18L362.03 323.11L362.13 323.04L362.24 322.97L362.34 322.90L362.44 322.84L362.54 322.77L362.64 322.70L362.75 322.64L362.85 322.57M365.82 320.79L365.92 320.74L366.02 320.68L366.12 320.62L366.23 320.57L366.33 320.51L366.43 320.46L366.53 320.41L366.63 320.35L366.74 320.30L366.84 320.25L366.94 320.19L367.04 320.14L367.15 320.09L367.25 320.04L367.35 319.99L367.45 319.94L367.56 319.89L367.66 319.84L367.76 319.79L367.86 319.74L367.96 319.69L368.07 319.65L368.17 319.60L368.27 319.55L368.37 319.51L368.48 319.46L368.58 319.42L368.68 319.37L368.78 319.33L368.89 319.29M372.06 318.25L372.16 318.23L372.26 318.21L372.36 318.19L372.47 318.17L372.57 318.15L372.67 318.13L372.77 318.11L372.88 318.10L372.98 318.08L373.08 318.07L373.18 318.05L373.28 318.04L373.39 318.03L373.49 318.02L373.59 318.01L373.69 318.00L373.80 317.99L373.90 317.98L374.00 317.98L374.10 317.97L374.21 317.97L374.31 317.96L374.41 317.96L374.51 317.96L374.61 317.96L374.72 317.96L374.82 317.96L374.92 317.96L375.02 317.96L375.13 317.96L375.23 317.97L375.33 317.98M378.60 318.59L378.71 318.63L378.81 318.66L378.91 318.69L379.01 318.73L379.12 318.76L379.22 318.79L379.32 318.83L379.42 318.87L379.53 318.90L379.63 318.94L379.73 318.98L379.83 319.02L379.93 319.06L380.04 319.10L380.14 319.14L380.24 319.18L380.34 319.22L380.45 319.26L380.55 319.30L380.65 319.34L380.75 319.39L380.86 319.43L380.96 319.47L381.06 319.52L381.16 319.56L381.26 319.61L381.37 319.65L381.47 319.70L381.57 319.75L381.67 319.79M384.74 321.35L384.85 321.40L384.95 321.46L385.05 321.52L385.15 321.57L385.25 321.63L385.36 321.69L385.46 321.75L385.56 321.81L385.66 321.86L385.77 321.92L385.87 321.98L385.97 322.04L386.07 322.10L386.18 322.17L386.28 322.23L386.38 322.29L386.48 322.35L386.58 322.41L386.69 322.47L386.79 322.54L386.89 322.60L386.99 322.66L387.10 322.73L387.20 322.79L387.30 322.85L387.40 322.92L387.51 322.98L387.61 323.05L387.71 323.11M390.57 324.98L390.68 325.05L390.78 325.12L390.88 325.18L390.98 325.25L391.09 325.32L391.19 325.38L391.29 325.45L391.39 325.51L391.50 325.58L391.60 325.65L391.70 325.71L391.80 325.78L391.90 325.84L392.01 325.91L392.11 325.97L392.21 326.04L392.31 326.10L392.42 326.17L392.52 326.23L392.62 326.29L392.72 326.36L392.83 326.42L392.93 326.49L393.03 326.55L393.13 326.61L393.23 326.68L393.34 326.74L393.44 326.80L393.54 326.87M396.51 328.68L396.61 328.74L396.71 328.80L396.82 328.87L396.92 328.93L397.02 328.99L397.12 329.06L397.22 329.12L397.33 329.18L397.43 329.25L397.53 329.31L397.63 329.37L397.74 329.44L397.84 329.50L397.94 329.56L398.04 329.63L398.15 329.69L398.25 329.76L398.35 329.82L398.45 329.88L398.55 329.95L398.66 330.01L398.76 330.08L398.86 330.14L398.96 330.21L399.07 330.27L399.17 330.34L399.27 330.40L399.37 330.47M402.34 332.39L402.44 332.46L402.54 332.53L402.65 332.59L402.75 332.66L402.85 332.73L402.95 332.80L403.06 332.86L403.16 332.93L403.26 333.00L403.36 333.07L403.47 333.13L403.57 333.20L403.67 333.27L403.77 333.33L403.87 333.40L403.98 333.47L404.08 333.54L404.18 333.60L404.28 333.67L404.39 333.74L404.49 333.80L404.59 333.87L404.69 333.93L404.80 334.00L404.90 334.07L405.00 334.13L405.10 334.20L405.20 334.26M408.17 336.02L408.27 336.07L408.38 336.13L408.48 336.18L408.58 336.24L408.68 336.29L408.79 336.34L408.89 336.40L408.99 336.45L409.09 336.50L409.19 336.55L409.30 336.60L409.40 336.66L409.50 336.71L409.60 336.76L409.71 336.81L409.81 336.86L409.91 336.91L410.01 336.96L410.12 337.01L410.22 337.06L410.32 337.10L410.42 337.15L410.52 337.20L410.63 337.25L410.73 337.30L410.83 337.34L410.93 337.39L411.04 337.44L411.14 337.49L411.24 337.53M414.31 338.88L414.41 338.92L414.51 338.96L414.62 339.00L414.72 339.05L414.82 339.09L414.92 339.13L415.03 339.18L415.13 339.22L415.23 339.26L415.33 339.30L415.44 339.35L415.54 339.39L415.64 339.43L415.74 339.47L415.84 339.52L415.95 339.56L416.05 339.60L416.15 339.64L416.25 339.68L416.36 339.73L416.46 339.77L416.56 339.81L416.66 339.85L416.77 339.89L416.87 339.93L416.97 339.97L417.07 340.02L417.17 340.06L417.28 340.10L417.38 340.14M420.55 341.37L420.65 341.41L420.76 341.45L420.86 341.49L420.96 341.52L421.06 341.56L421.16 341.60L421.27 341.64L421.37 341.68L421.47 341.71L421.57 341.75L421.68 341.79L421.78 341.83L421.88 341.86L421.98 341.90L422.09 341.94L422.19 341.97L422.29 342.01L422.39 342.05L422.49 342.08L422.60 342.12L422.70 342.15L422.80 342.19L422.90 342.23L423.01 342.26L423.11 342.30L423.21 342.33L423.31 342.37L423.42 342.41L423.52 342.44L423.62 342.48L423.72 342.51M426.89 343.55L427.00 343.58L427.10 343.61L427.20 343.64L427.30 343.68L427.41 343.71L427.51 343.74L427.61 343.77L427.71 343.80L427.81 343.83L427.92 343.87L428.02 343.90L428.12 343.93L428.22 343.96L428.33 343.99L428.43 344.02L428.53 344.05L428.63 344.08L428.74 344.11L428.84 344.14L428.94 344.18L429.04 344.21L429.14 344.24L429.25 344.27L429.35 344.30L429.45 344.33L429.55 344.36L429.66 344.39L429.76 344.42L429.86 344.45L429.96 344.48L430.07 344.51M433.34 345.45L433.44 345.47L433.54 345.50L433.65 345.53L433.75 345.56L433.85 345.59L433.95 345.62L434.06 345.64L434.16 345.67L434.26 345.70L434.36 345.73L434.46 345.75L434.57 345.78L434.67 345.81L434.77 345.84L434.87 345.87L434.98 345.89L435.08 345.92L435.18 345.95L435.28 345.98L435.39 346.00L435.49 346.03L435.59 346.06L435.69 346.08L435.79 346.11L435.90 346.14L436.00 346.16L436.10 346.19L436.20 346.22L436.31 346.25L436.41 346.27L436.51 346.30M439.78 347.12L439.89 347.14L439.99 347.17L440.09 347.19L440.19 347.21L440.30 347.24L440.40 347.26L440.50 347.29L440.60 347.31L440.71 347.33L440.81 347.36L440.91 347.38L441.01 347.41L441.11 347.43L441.22 347.45L441.32 347.48L441.42 347.50L441.52 347.52L441.63 347.55L441.73 347.57L441.83 347.59L441.93 347.62L442.04 347.64L442.14 347.66L442.24 347.68L442.34 347.71L442.44 347.73L442.55 347.75L442.65 347.78L442.75 347.80L442.85 347.82L442.96 347.84L443.06 347.87M446.23 348.52L446.33 348.54L446.43 348.56L446.54 348.58L446.64 348.60L446.74 348.62L446.84 348.64L446.95 348.66L447.05 348.68L447.15 348.70L447.25 348.72L447.36 348.74L447.46 348.76L447.56 348.78L447.66 348.80L447.76 348.82L447.87 348.84L447.97 348.86L448.07 348.87L448.17 348.89L448.28 348.91L448.38 348.93L448.48 348.95L448.58 348.97L448.69 348.99L448.79 349.01L448.89 349.02L448.99 349.04L449.09 349.06L449.20 349.08L449.30 349.10L449.40 349.12L449.50 349.14M452.78 349.69L452.88 349.71L452.98 349.73L453.08 349.74L453.19 349.76L453.29 349.78L453.39 349.79L453.49 349.81L453.60 349.83L453.70 349.84L453.80 349.86L453.90 349.88L454.01 349.89L454.11 349.91L454.21 349.92L454.31 349.94L454.41 349.96L454.52 349.97L454.62 349.99L454.72 350.00L454.82 350.02L454.93 350.04L455.03 350.05L455.13 350.07L455.23 350.08L455.34 350.10L455.44 350.12L455.54 350.13L455.64 350.15L455.74 350.16L455.85 350.18L455.95 350.19L456.05 350.21M459.33 350.69L459.43 350.71L459.53 350.72L459.63 350.74L459.73 350.75L459.84 350.76L459.94 350.78L460.04 350.79L460.14 350.81L460.25 350.82L460.35 350.84L460.45 350.85L460.55 350.86L460.66 350.88L460.76 350.89L460.86 350.91L460.96 350.92L461.06 350.94L461.17 350.95L461.27 350.96L461.37 350.98L461.47 350.99L461.58 351.01L461.68 351.02L461.78 351.03L461.88 351.05L461.99 351.06L462.09 351.08L462.19 351.09L462.29 351.10L462.39 351.12L462.50 351.13L462.60 351.15M465.87 351.58L465.98 351.60L466.08 351.61L466.18 351.62L466.28 351.64L466.38 351.65L466.49 351.66L466.59 351.68L466.69 351.69L466.79 351.70L466.90 351.72L467.00 351.73L467.10 351.74L467.20 351.76L467.31 351.77L467.41 351.78L467.51 351.80L467.61 351.81L467.71 351.82L467.82 351.84L467.92 351.85L468.02 351.86L468.12 351.88L468.23 351.89L468.33 351.90L468.43 351.92L468.53 351.93L468.64 351.94L468.74 351.96L468.84 351.97L468.94 351.98L469.04 351.99L469.15 352.01M472.42 352.42L472.52 352.43L472.63 352.44L472.73 352.45L472.83 352.47L472.93 352.48L473.03 352.49L473.14 352.50L473.24 352.52L473.34 352.53L473.44 352.54L473.55 352.55L473.65 352.56L473.75 352.58L473.85 352.59L473.96 352.60L474.06 352.61L474.16 352.63L474.26 352.64L474.36 352.65L474.47 352.66L474.57 352.67L474.67 352.69L474.77 352.70L474.88 352.71L474.98 352.72L475.08 352.73L475.18 352.75L475.29 352.76L475.39 352.77L475.49 352.78L475.59 352.79L475.69 352.81M479.07 353.19L479.17 353.20L479.28 353.21L479.38 353.22L479.48 353.24L479.58 353.25L479.68 353.26L479.79 353.27L479.89 353.28L479.99 353.29L480.09 353.30L480.20 353.31L480.30 353.32L480.40 353.34L480.50 353.35L480.61 353.36L480.71 353.37L480.81 353.38L480.91 353.39L481.01 353.40L481.12 353.41L481.22 353.42L481.32 353.43L481.42 353.45L481.53 353.46L481.63 353.47L481.73 353.48L481.83 353.49L481.94 353.50L482.04 353.51L482.14 353.52L482.24 353.53L482.34 353.54M485.62 353.87L485.72 353.88L485.82 353.89L485.93 353.90L486.03 353.91L486.13 353.92L486.23 353.93L486.33 353.94L486.44 353.95L486.54 353.96L486.64 353.97L486.74 353.98"/>
<path class="c dashed" d="M333.80 335.54L333.90 335.45L334.00 335.35L334.10 335.26L334.20 335.16L334.31 335.07L334.41 334.97L334.51 334.87L334.61 334.78L334.71 334.68L334.82 334.58L334.92 334.48L335.02 334.38L335.12 334.28L335.22 334.18L335.33 334.08L335.43 333.97L335.53 333.87L335.63 333.77L335.73 333.66L335.84 333.56L335.94 333.45L336.04 333.34L336.14 333.23L336.24 333.13L336.35 333.02L336.45 332.91L336.55 332.79L336.65 332.68L336.75 332.57L336.86 332.46L336.96 332.34L337.06 332.23L337.16 332.11L337.26 331.99L337.37 331.88L337.47 331.76L337.57 331.64L337.67 331.52L337.77 331.40L337.88 331.27L337.98 331.15L338.08 331.03L338.18 330.90L338.28 330.78L338.39 330.65L338.49 330.52L338.59 330.39L338.69 330.26L338.79 330.13L338.90 330.00L339.00 329.87L339.10 329.74L339.20 329.61L339.30 329.47L339.41 329.34L339.51 329.20L339.61 329.06L339.71 328.92L339.81 328.78L339.92 328.64L340.02 328.50L340.12 328.36L340.22 328.22L340.33 328.07L340.43 327.93M345.12 320.68L345.22 320.52L345.32 320.36L345.43 320.20L345.53 320.04L345.63 319.89L345.73 319.73L345.83 319.57L345.94 319.42L346.04 319.26L346.14 319.10L346.24 318.95L346.35 318.79L346.45 318.64L346.55 318.48L346.65 318.33L346.75 318.17L346.86 318.02L346.96 317.86L347.06 317.71L347.16 317.55L347.26 317.40L347.37 317.24L347.47 317.09L347.57 316.94L347.67 316.78L347.77 316.63L347.88 316.47L347.98 316.32L348.08 316.16L348.18 316.01L348.28 315.85L348.39 315.70L348.49 315.54L348.59 315.38L348.69 315.23L348.79 315.07L348.90 314.91L349.00 314.75L349.10 314.60L349.20 314.44L349.30 314.28L349.41 314.12L349.51 313.96M354.00 306.70L354.10 306.54L354.20 306.37L354.30 306.21L354.41 306.05L354.51 305.89L354.61 305.73L354.71 305.57L354.81 305.41L354.92 305.25L355.02 305.09L355.12 304.93L355.22 304.77L355.32 304.61L355.43 304.45L355.53 304.29L355.63 304.13L355.73 303.98L355.83 303.82L355.94 303.66L356.04 303.51L356.14 303.35L356.24 303.19L356.34 303.04L356.45 302.88L356.55 302.73L356.65 302.57L356.75 302.41L356.85 302.26L356.96 302.10L357.06 301.95L357.16 301.79L357.26 301.64L357.36 301.49L357.47 301.33L357.57 301.18L357.67 301.02L357.77 300.87L357.87 300.72L357.98 300.56L358.08 300.41L358.18 300.26L358.28 300.10L358.39 299.95M363.49 293.20L363.59 293.09L363.69 292.98L363.79 292.88L363.89 292.78L364.00 292.67L364.10 292.57L364.20 292.48L364.30 292.38L364.41 292.28L364.51 292.19L364.61 292.09L364.71 292.00L364.81 291.91L364.92 291.82L365.02 291.73L365.12 291.64L365.22 291.55L365.32 291.47L365.43 291.38L365.53 291.30L365.63 291.22L365.73 291.14L365.83 291.06L365.94 290.98L366.04 290.90L366.14 290.82L366.24 290.75L366.34 290.68L366.45 290.60L366.55 290.53L366.65 290.46L366.75 290.39L366.85 290.32L366.96 290.26L367.06 290.19L367.16 290.13L367.26 290.06L367.36 290.00L367.47 289.94L367.57 289.88L367.67 289.82L367.77 289.76L367.87 289.71L367.98 289.65L368.08 289.60L368.18 289.54L368.28 289.49L368.38 289.44L368.49 289.39L368.59 289.34L368.69 289.29L368.79 289.25L368.89 289.20L369.00 289.16L369.10 289.11L369.20 289.07L369.30 289.03L369.40 288.99L369.51 288.95L369.61 288.91M376.96 289.41L377.06 289.46L377.16 289.51L377.26 289.57L377.36 289.62L377.47 289.67L377.57 289.73L377.67 289.78L377.77 289.84L377.87 289.90L377.98 289.95L378.08 290.01L378.18 290.07L378.28 290.13L378.38 290.20L378.49 290.26L378.59 290.32L378.69 290.39L378.79 290.45L378.89 290.52L379.00 290.59L379.10 290.66L379.20 290.72L379.30 290.79L379.40 290.86L379.51 290.94L379.61 291.01L379.71 291.08L379.81 291.16L379.91 291.23L380.02 291.31L380.12 291.38L380.22 291.46L380.32 291.54L380.42 291.62L380.53 291.70L380.63 291.78L380.73 291.86L380.83 291.94L380.93 292.02L381.04 292.10L381.14 292.19L381.24 292.27L381.34 292.36L381.44 292.44L381.55 292.53L381.65 292.62L381.75 292.71L381.85 292.79L381.95 292.88L382.06 292.97L382.16 293.06L382.26 293.16L382.36 293.25L382.47 293.34L382.57 293.43L382.67 293.53L382.77 293.62L382.87 293.72L382.98 293.82L383.08 293.91M388.69 299.76L388.79 299.87L388.89 299.98L389.00 300.08L389.10 300.19L389.20 300.30L389.30 300.40L389.40 300.51L389.51 300.61L389.61 300.72L389.71 300.82L389.81 300.93L389.91 301.03L390.02 301.14L390.12 301.24L390.22 301.35L390.32 301.45L390.42 301.55L390.53 301.66L390.63 301.76L390.73 301.87L390.83 301.97L390.93 302.07L391.04 302.18L391.14 302.28L391.24 302.39L391.34 302.49L391.44 302.59L391.55 302.70L391.65 302.80L391.75 302.90L391.85 303.01L391.95 303.11L392.06 303.22L392.16 303.32L392.26 303.43L392.36 303.53L392.46 303.63L392.57 303.74L392.67 303.84L392.77 303.95L392.87 304.05L392.97 304.16L393.08 304.27L393.18 304.37L393.28 304.48L393.38 304.58L393.48 304.69L393.59 304.80L393.69 304.91L393.79 305.01L393.89 305.12L393.99 305.23L394.10 305.34L394.20 305.45M399.61 311.53L399.71 311.65L399.81 311.77L399.91 311.88L400.01 312.00L400.12 312.12L400.22 312.23L400.32 312.35L400.42 312.47L400.53 312.58L400.63 312.70L400.73 312.81L400.83 312.93L400.93 313.04L401.04 313.16L401.14 313.27L401.24 313.39L401.34 313.50L401.44 313.62L401.55 313.73L401.65 313.84L401.75 313.96L401.85 314.07L401.95 314.18L402.06 314.29L402.16 314.40L402.26 314.52L402.36 314.63L402.46 314.74L402.57 314.85L402.67 314.96L402.77 315.07L402.87 315.17L402.97 315.28L403.08 315.39L403.18 315.50L403.28 315.61L403.38 315.71L403.48 315.82L403.59 315.92L403.69 316.03L403.79 316.13L403.89 316.24L403.99 316.34L404.10 316.45L404.20 316.55L404.30 316.65L404.40 316.76L404.50 316.86L404.61 316.96L404.71 317.06L404.81 317.16L404.91 317.26L405.01 317.36M411.03 322.72L411.14 322.81L411.24 322.89L411.34 322.98L411.44 323.06L411.54 323.14L411.65 323.23L411.75 323.31L411.85 323.40L411.95 323.48L412.05 323.56L412.16 323.65L412.26 323.73L412.36 323.81L412.46 323.89L412.57 323.98L412.67 324.06L412.77 324.14L412.87 324.22L412.97 324.30L413.08 324.39L413.18 324.47L413.28 324.55L413.38 324.63L413.48 324.71L413.59 324.79L413.69 324.87L413.79 324.95L413.89 325.03L413.99 325.11L414.10 325.19L414.20 325.27L414.30 325.35L414.40 325.43L414.50 325.51L414.61 325.59L414.71 325.67L414.81 325.75L414.91 325.82L415.01 325.90L415.12 325.98L415.22 326.06L415.32 326.14L415.42 326.21L415.52 326.29L415.63 326.37L415.73 326.45L415.83 326.52L415.93 326.60L416.03 326.68L416.14 326.75L416.24 326.83L416.34 326.90L416.44 326.98L416.54 327.06L416.65 327.13L416.75 327.21L416.85 327.28L416.95 327.36L417.05 327.43M423.58 331.79L423.69 331.85L423.79 331.91L423.89 331.97L423.99 332.03L424.09 332.09L424.20 332.15L424.30 332.21L424.40 332.27L424.50 332.33L424.60 332.39L424.71 332.45L424.81 332.51L424.91 332.57L425.01 332.63L425.12 332.69L425.22 332.75L425.32 332.81L425.42 332.86L425.52 332.92L425.63 332.98L425.73 333.04L425.83 333.09L425.93 333.15L426.03 333.21L426.14 333.27L426.24 333.32L426.34 333.38L426.44 333.44L426.54 333.49L426.65 333.55L426.75 333.60L426.85 333.66L426.95 333.72L427.05 333.77L427.16 333.83L427.26 333.88L427.36 333.94L427.46 333.99L427.56 334.05L427.67 334.10L427.77 334.16L427.87 334.21L427.97 334.26L428.07 334.32L428.18 334.37L428.28 334.43L428.38 334.48L428.48 334.53L428.58 334.59L428.69 334.64L428.79 334.69L428.89 334.75L428.99 334.80L429.09 334.85L429.20 334.91L429.30 334.96L429.40 335.01L429.50 335.06L429.60 335.12L429.71 335.17L429.81 335.22L429.91 335.27L430.01 335.33L430.11 335.38M437.16 338.67L437.26 338.72L437.36 338.76L437.46 338.80L437.56 338.85L437.67 338.89L437.77 338.93L437.87 338.97L437.97 339.02L438.07 339.06L438.18 339.10L438.28 339.14L438.38 339.19L438.48 339.23L438.58 339.27L438.69 339.31L438.79 339.35L438.89 339.39L438.99 339.43L439.09 339.48L439.20 339.52L439.30 339.56L439.40 339.60L439.50 339.64L439.60 339.68L439.71 339.72L439.81 339.76L439.91 339.80L440.01 339.84L440.11 339.88L440.22 339.92L440.32 339.96L440.42 340.00L440.52 340.04L440.62 340.07L440.73 340.11L440.83 340.15L440.93 340.19L441.03 340.23L441.13 340.27L441.24 340.30L441.34 340.34L441.44 340.38L441.54 340.42L441.64 340.45L441.75 340.49L441.85 340.53L441.95 340.57L442.05 340.60L442.15 340.64L442.26 340.68L442.36 340.71L442.46 340.75L442.56 340.79L442.66 340.82L442.77 340.86L442.87 340.89L442.97 340.93L443.07 340.96L443.18 341.00L443.28 341.03L443.38 341.07L443.48 341.10L443.58 341.14L443.69 341.17L443.79 341.21L443.89 341.24L443.99 341.27M451.24 343.36L451.34 343.38L451.44 343.41L451.54 343.43L451.64 343.46L451.75 343.48L451.85 343.51L451.95 343.53L452.05 343.56L452.15 343.58L452.26 343.61L452.36 343.63L452.46 343.66L452.56 343.68L452.66 343.71L452.77 343.73L452.87 343.76L452.97 343.78L453.07 343.80L453.17 343.83L453.28 343.85L453.38 343.88L453.48 343.90L453.58 343.92L453.68 343.95L453.79 343.97L453.89 343.99L453.99 344.02L454.09 344.04L454.19 344.07L454.30 344.09L454.40 344.11L454.50 344.13L454.60 344.16L454.70 344.18L454.81 344.20L454.91 344.23L455.01 344.25L455.11 344.27L455.22 344.30L455.32 344.32L455.42 344.34L455.52 344.36L455.62 344.39L455.73 344.41L455.83 344.43L455.93 344.45L456.03 344.47L456.13 344.50L456.24 344.52L456.34 344.54L456.44 344.56L456.54 344.58L456.64 344.61L456.75 344.63L456.85 344.65L456.95 344.67L457.05 344.69L457.15 344.72L457.26 344.74L457.36 344.76L457.46 344.78L457.56 344.80L457.66 344.82L457.77 344.84L457.87 344.86L457.97 344.89L458.07 344.91L458.17 344.93L458.28 344.95L458.38 344.97M465.72 346.38L465.83 346.40L465.93 346.41L466.03 346.43L466.13 346.45L466.23 346.47L466.34 346.49L466.44 346.51L466.54 346.52L466.64 346.54L466.74 346.56L466.85 346.58L466.95 346.60L467.05 346.62L467.15 346.63L467.26 346.65L467.36 346.67L467.46 346.69L467.56 346.71L467.66 346.72L467.77 346.74L467.87 346.76L467.97 346.78L468.07 346.80L468.17 346.82L468.28 346.83L468.38 346.85L468.48 346.87L468.58 346.89L468.68 346.90L468.79 346.92L468.89 346.94L468.99 346.96L469.09 346.98L469.19 346.99L469.30 347.01L469.40 347.03L469.50 347.05L469.60 347.07L469.70 347.08L469.81 347.10L469.91 347.12L470.01 347.14L470.11 347.15L470.21 347.17L470.32 347.19L470.42 347.21L470.52 347.22L470.62 347.24L470.72 347.26L470.83 347.28L470.93 347.29L471.03 347.31L471.13 347.33L471.23 347.35L471.34 347.36L471.44 347.38L471.54 347.40L471.64 347.41L471.74 347.43L471.85 347.45L471.95 347.47L472.05 347.48L472.15 347.50L472.25 347.52L472.36 347.53L472.46 347.55L472.56 347.57L472.66 347.58L472.76 347.60L472.87 347.62M480.32 348.77L480.42 348.78L480.52 348.80L480.62 348.81L480.72 348.83L480.83 348.84L480.93 348.86L481.03 348.87L481.13 348.88L481.23 348.90L481.34 348.91L481.44 348.93L481.54 348.94L481.64 348.95L481.74 348.97L481.85 348.98L481.95 349.00L482.05 349.01L482.15 349.02L482.25 349.04L482.36 349.05L482.46 349.07L482.56 349.08L482.66 349.09L482.76 349.11L482.87 349.12L482.97 349.14L483.07 349.15L483.17 349.16L483.27 349.18L483.38 349.19L483.48 349.20L483.58 349.22L483.68 349.23L483.78 349.24L483.89 349.26L483.99 349.27L484.09 349.28L484.19 349.30L484.29 349.31L484.40 349.32L484.50 349.34L484.60 349.35L484.70 349.36L484.80 349.38L484.91 349.39L485.01 349.40L485.11 349.41L485.21 349.43L485.32 349.44L485.42 349.45L485.52 349.47L485.62 349.48L485.72 349.49L485.83 349.50L485.93 349.52L486.03 349.53L486.13 349.54L486.23 349.56L486.34 349.57L486.44 349.58L486.54 349.59L486.64 349.61L486.74 349.62"/>
<path class="c black" d="M334.00 316.47L334.96 314.98L335.92 313.41L336.88 311.76L337.84 310.00L338.80 308.14L339.76 306.16L340.72 304.07L341.69 301.87L342.65 299.60L343.61 297.26L344.57 294.89L345.53 292.50L346.49 290.11L347.45 287.72L348.41 285.33L349.37 282.94L350.33 280.57L351.29 278.20L352.25 275.85L353.21 273.52L354.17 271.21L355.13 268.93L356.10 266.68L357.06 264.45L358.02 262.26L358.98 260.08L359.94 257.94L360.90 255.85L361.86 253.85L362.82 251.99L363.78 250.33L364.74 248.90L365.70 247.71L366.66 246.75L367.62 245.99L368.58 245.41L369.54 244.97L370.50 244.68L371.47 244.53L372.43 244.52L373.39 244.65L374.35 244.92L375.31 245.30L376.27 245.80L377.23 246.39L378.19 247.09L379.15 247.89L380.11 248.82L381.07 249.86L382.03 251.02L382.99 252.28L383.95 253.63L384.91 255.04L385.88 256.50L386.84 257.98L387.80 259.49L388.76 261.02L389.72 262.57L390.68 264.15L391.64 265.76L392.60 267.41L393.56 269.08L394.52 270.77L395.48 272.47L396.44 274.17L397.40 275.87L398.36 277.57L399.32 279.27L400.29 280.97L401.25 282.66L402.21 284.34L403.17 286.01L404.13 287.65L405.09 289.27L406.05 290.85L407.01 292.41L407.97 293.95L408.93 295.48L409.89 296.99L410.85 298.49L411.81 299.96L412.77 301.39L413.73 302.77L414.69 304.09L415.66 305.35L416.62 306.53L417.58 307.65L418.54 308.71L419.50 309.71L420.46 310.67L421.42 311.59L422.38 312.47L423.34 313.32L424.30 314.15L425.26 314.97L426.22 315.78L427.18 316.58L428.14 317.37L429.10 318.17L430.07 318.96L431.03 319.74L431.99 320.51L432.95 321.28L433.91 322.03L434.87 322.77L435.83 323.50L436.79 324.22L437.75 324.92L438.71 325.60L439.67 326.28L440.63 326.94L441.59 327.58L442.55 328.21L443.51 328.81L444.47 329.40L445.44 329.95L446.40 330.49L447.36 331.00L448.32 331.49L449.28 331.96L450.24 332.42L451.20 332.87L452.16 333.31L453.12 333.73L454.08 334.15L455.04 334.56L456.00 334.96L456.96 335.34L457.92 335.72L458.88 336.10L459.85 336.46L460.81 336.81L461.77 337.16L462.73 337.50L463.69 337.83L464.65 338.15L465.61 338.47L466.57 338.78L467.53 339.08L468.49 339.38L469.45 339.68L470.41 339.96L471.37 340.25L472.33 340.53L473.29 340.80L474.26 341.07L475.22 341.33L476.18 341.59L477.14 341.84L478.10 342.08L479.06 342.32L480.02 342.55L480.98 342.78L481.94 343.00L482.90 343.21L483.86 343.41L484.82 343.61L485.78 343.80L486.74 343.99"/>
<text class="tk" x="298.40" y="220.30" text-anchor="end">1.0</text>
<text class="tk" x="513.10" y="220.30">1.0</text>
<text class="tk" x="298.40" y="249.38" text-anchor="end">0.8</text>
<text class="tk" x="513.10" y="249.38">0.8</text>
<text class="tk" x="298.40" y="278.46" text-anchor="end">0.6</text>
<text class="tk" x="513.10" y="278.46">0.6</text>
<text class="tk" x="298.40" y="307.54" text-anchor="end">0.4</text>
<text class="tk" x="513.10" y="307.54">0.4</text>
<text class="tk" x="298.40" y="336.62" text-anchor="end">0.2</text>
<text class="tk" x="513.10" y="336.62">0.2</text>
<text class="tk" x="298.40" y="365.70" text-anchor="end">0.0</text>
<text class="tk" x="513.10" y="365.70">0.0</text>
<text class="tk" x="302.50" y="380.30" text-anchor="middle">-40</text>
<text class="tk" x="323.03" y="380.30" text-anchor="middle">-30</text>
<text class="tk" x="343.56" y="380.30" text-anchor="middle">-20</text>
<text class="tk" x="364.09" y="380.30" text-anchor="middle">-10</text>
<text class="tk" x="385.12" y="380.30" text-anchor="middle">0</text>
<text class="tk" x="405.65" y="380.30" text-anchor="middle">10</text>
<text class="tk" x="426.18" y="380.30" text-anchor="middle">20</text>
<text class="tk" x="446.71" y="380.30" text-anchor="middle">30</text>
<text class="tk" x="467.24" y="380.30" text-anchor="middle">40</text>
<text class="tk" x="487.77" y="380.30" text-anchor="middle">50</text>
<text class="tk" x="508.30" y="380.30" text-anchor="middle">60</text>
<text class="at" text-anchor="middle" transform="translate(283.80 290.90) rotate(-90)"><tspan class="gk">σ, σ</tspan><tspan class="sub" dy="1.8">c</tspan><tspan class="pr" dy="-2.1"> (-)</tspan></text>
<text class="at" text-anchor="middle" transform="translate(533.50 290.10) rotate(-90)">C<tspan class="sub" dy="1.8">b</tspan><tspan class="pr" dy="-2.1"> (-)</tspan></text>
<text class="at xl" text-anchor="middle" x="405.35" y="392.30">L' (-)</text>
<text class="cap" text-anchor="middle" x="406.85" y="409.60">(<tspan class="b">d</tspan>)</text>
</g>
<g class="legend">
<rect x="125.3" y="422.2" width="292.7" height="18.3" fill="#fff" stroke="#bfbfbf" stroke-width="0.7"/>
<path class="c blue" d="M129.4 431.3 H147.4"/>
<text class="lg" x="151" y="433.9">σ</text>
<path class="c red" d="M161.4 431.3 H179.4"/>
<text class="lg" x="183.6" y="433.9">σ<tspan class="sub" dy="1.4">c</tspan><tspan dy="-1.4"> (4f)</tspan></text>
<path class="c black" d="M208 431.3 H226"/>
<text class="lg" x="230" y="433.9">σ<tspan class="sub" dy="1.4">c</tspan><tspan dy="-1.4"> (C</tspan><tspan class="sub2" dy="1.4">p0.2%%</tspan><tspan dy="-1.4">)</tspan></text>
<path class="c black" style="stroke-width:1.3" d="M264.4 431.3 H271 M281 431.3 H287.6"/>
<text class="lg" x="291.8" y="433.9">σ<tspan class="sub" dy="1.4">c</tspan><tspan dy="-1.4"> (C</tspan><tspan class="sub2" dy="1.4">p1.0%%</tspan><tspan dy="-1.4">)</tspan></text>
<path class="c black" style="stroke-width:1.3" d="M326.4 431.3 h2.5 m2.2 0 h2.5 m2.2 0 h2.5 m2.2 0 h2.5"/>
<text class="lg" x="347.6" y="433.9">σ<tspan class="sub" dy="1.4">c</tspan><tspan dy="-1.4"> (C</tspan><tspan class="sub2" dy="1.4">p5.0%%</tspan><tspan dy="-1.4">)</tspan></text>
<path class="c cbl" d="M384 431.5 H401 M385.4 431.5 v-3.8 M389.6 431.5 v-3.8 M393.8 431.5 v-3.8 M398 431.5 v-3.8"/>
<text class="lg" x="407.4" y="433.9">C<tspan class="sub" dy="1.4">b</tspan></text>
</g>
</svg></body></html>
